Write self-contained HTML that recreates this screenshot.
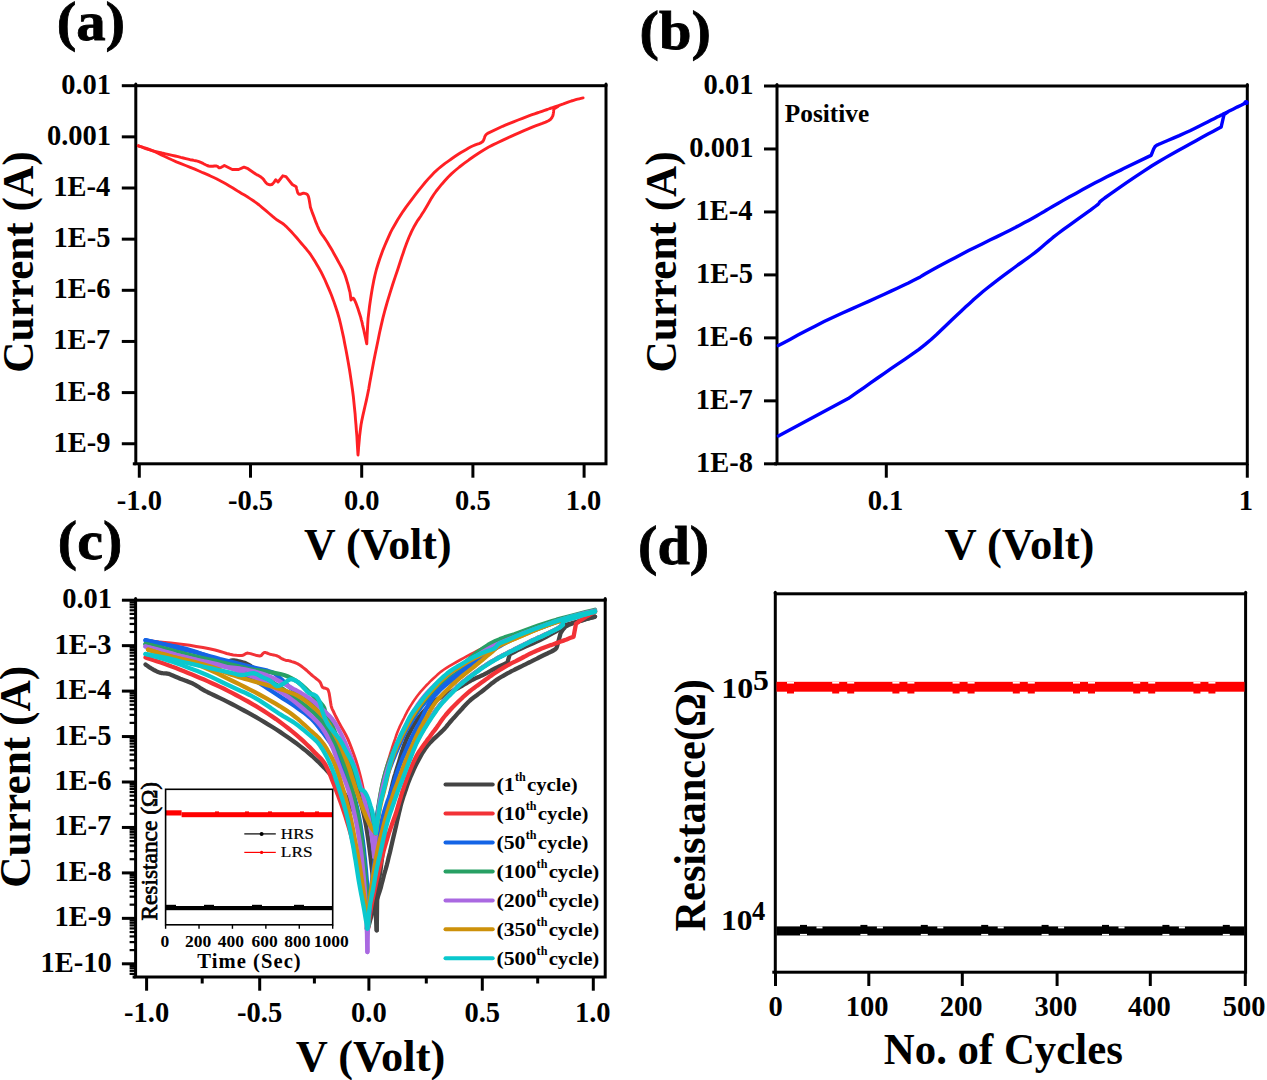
<!DOCTYPE html>
<html><head><meta charset="utf-8"><style>
html,body{margin:0;padding:0;background:#fff;}
body{width:1267px;height:1080px;overflow:hidden;}
svg{display:block;}
text{font-family:"Liberation Serif",serif;}
</style></head><body>
<svg width="1267" height="1080" viewBox="0 0 1267 1080">
<rect width="1267" height="1080" fill="#fff"/>
<text x="56.65" y="39.80" font-size="54.50" font-weight="bold" textLength="68.56" lengthAdjust="spacingAndGlyphs" fill="#000" stroke="#000" stroke-width="0.8">(a)</text>
<rect x="135.8" y="85.7" width="470.2" height="378.1" fill="none" stroke="#000" stroke-width="3"/>
<line x1="135.8" y1="85.7" x2="135.8" y2="84.10000000000001" stroke="#000" stroke-width="3" stroke-linecap="round"/>
<line x1="606" y1="85.7" x2="606" y2="84.10000000000001" stroke="#000" stroke-width="3" stroke-linecap="round"/>
<line x1="132.8" y1="463.8" x2="135.8" y2="463.8" stroke="#000" stroke-width="3"/>
<line x1="121.80" y1="85.70" x2="135.80" y2="85.70" stroke="#000" stroke-width="3" stroke-linecap="butt"/>
<text x="61.15" y="93.70" font-size="28.50" font-weight="bold" textLength="49.88" lengthAdjust="spacingAndGlyphs" fill="#000" >0.01</text>
<line x1="121.80" y1="136.85" x2="135.80" y2="136.85" stroke="#000" stroke-width="3" stroke-linecap="butt"/>
<text x="46.90" y="144.85" font-size="28.50" font-weight="bold" textLength="64.12" lengthAdjust="spacingAndGlyphs" fill="#000" >0.001</text>
<line x1="121.80" y1="188.00" x2="135.80" y2="188.00" stroke="#000" stroke-width="3" stroke-linecap="butt"/>
<text x="53.17" y="196.00" font-size="28.50" font-weight="bold" textLength="57.00" lengthAdjust="spacingAndGlyphs" fill="#000" >1E-4</text>
<line x1="121.80" y1="239.15" x2="135.80" y2="239.15" stroke="#000" stroke-width="3" stroke-linecap="butt"/>
<text x="53.60" y="247.15" font-size="28.50" font-weight="bold" textLength="57.00" lengthAdjust="spacingAndGlyphs" fill="#000" >1E-5</text>
<line x1="121.80" y1="290.30" x2="135.80" y2="290.30" stroke="#000" stroke-width="3" stroke-linecap="butt"/>
<text x="53.45" y="298.30" font-size="28.50" font-weight="bold" textLength="57.00" lengthAdjust="spacingAndGlyphs" fill="#000" >1E-6</text>
<line x1="121.80" y1="341.45" x2="135.80" y2="341.45" stroke="#000" stroke-width="3" stroke-linecap="butt"/>
<text x="53.31" y="349.45" font-size="28.50" font-weight="bold" textLength="57.00" lengthAdjust="spacingAndGlyphs" fill="#000" >1E-7</text>
<line x1="121.80" y1="392.60" x2="135.80" y2="392.60" stroke="#000" stroke-width="3" stroke-linecap="butt"/>
<text x="53.60" y="400.60" font-size="28.50" font-weight="bold" textLength="57.00" lengthAdjust="spacingAndGlyphs" fill="#000" >1E-8</text>
<line x1="121.80" y1="443.75" x2="135.80" y2="443.75" stroke="#000" stroke-width="3" stroke-linecap="butt"/>
<text x="53.60" y="451.75" font-size="28.50" font-weight="bold" textLength="57.00" lengthAdjust="spacingAndGlyphs" fill="#000" >1E-9</text>
<line x1="139.30" y1="463.80" x2="139.30" y2="477.70" stroke="#000" stroke-width="3" stroke-linecap="butt"/>
<text x="116.78" y="509.90" font-size="28.50" font-weight="bold" textLength="45.12" lengthAdjust="spacingAndGlyphs" fill="#000" >-1.0</text>
<line x1="250.50" y1="463.80" x2="250.50" y2="477.70" stroke="#000" stroke-width="3" stroke-linecap="butt"/>
<text x="227.91" y="509.90" font-size="28.50" font-weight="bold" textLength="45.12" lengthAdjust="spacingAndGlyphs" fill="#000" >-0.5</text>
<line x1="361.70" y1="463.80" x2="361.70" y2="477.70" stroke="#000" stroke-width="3" stroke-linecap="butt"/>
<text x="343.89" y="509.90" font-size="28.50" font-weight="bold" textLength="35.63" lengthAdjust="spacingAndGlyphs" fill="#000" >0.0</text>
<line x1="472.90" y1="463.80" x2="472.90" y2="477.70" stroke="#000" stroke-width="3" stroke-linecap="butt"/>
<text x="455.02" y="509.90" font-size="28.50" font-weight="bold" textLength="35.62" lengthAdjust="spacingAndGlyphs" fill="#000" >0.5</text>
<line x1="584.10" y1="463.80" x2="584.10" y2="477.70" stroke="#000" stroke-width="3" stroke-linecap="butt"/>
<text x="565.72" y="509.90" font-size="28.50" font-weight="bold" textLength="35.62" lengthAdjust="spacingAndGlyphs" fill="#000" >1.0</text>
<text x="304.06" y="559.20" font-size="44.60" font-weight="bold" textLength="147.46" lengthAdjust="spacingAndGlyphs" fill="#000" >V (Volt)</text>
<text transform="translate(33.00,370.60) rotate(-90)" x="-2.16" y="0" font-size="44.00" font-weight="bold" textLength="221.38" lengthAdjust="spacingAndGlyphs" >Current (A)</text>
<polyline points="138.4,145.8 139.8,146.3 141.7,146.8 143.9,147.6 146.5,148.4 149.2,149.4 152.0,150.5 154.9,151.8 158.0,153.3 161.3,154.9 164.8,156.5 168.5,158.3 172.3,160.0 176.4,161.8 180.9,163.6 185.6,165.5 190.3,167.4 194.8,169.2 199.0,171.0 202.8,172.7 206.4,174.2 209.8,175.7 213.2,177.3 216.4,178.8 219.7,180.5 223.0,182.3 226.2,184.1 229.4,186.0 232.5,187.8 235.6,189.7 238.6,191.6 241.6,193.4 244.5,195.1 247.3,196.8 250.1,198.6 253.0,200.5 256.0,202.6 259.2,205.0 262.5,207.8 265.9,210.7 269.2,213.5 272.3,216.2 275.0,218.4 277.2,220.1 279.1,221.3 280.7,222.3 282.3,223.3 284.0,224.5 286.0,226.3 288.4,228.7 291.1,231.5 293.9,234.6 296.7,237.8 299.3,240.9 301.7,243.7 303.8,246.1 305.6,248.2 307.3,250.3 309.0,252.4 310.7,254.7 312.5,257.5 314.5,260.6 316.5,264.0 318.6,267.6 320.8,271.4 322.9,275.6 325.0,280.0 327.1,284.8 329.3,289.9 331.5,295.3 333.6,300.9 335.6,306.7 337.5,312.5 339.2,318.4 340.7,324.5 342.1,330.8 343.5,337.1 344.7,343.5 346.0,350.0 347.2,356.6 348.4,363.3 349.6,370.2 350.6,376.9 351.6,383.6 352.5,390.0 353.3,396.2 353.9,402.2 354.5,408.1 355.1,413.9 355.5,419.5 356.0,425.0 356.4,430.6 356.9,436.5 357.2,442.2 357.5,447.4 357.8,451.8 358.0,455.0 358.3,451.7 358.6,447.2 359.1,441.9 359.6,436.1 360.3,430.3 361.0,425.0 361.9,420.1 362.9,415.4 364.0,410.6 365.1,405.7 366.3,400.6 367.5,395.0 368.7,389.0 369.8,382.6 371.0,375.9 372.3,369.1 373.6,362.1 375.0,355.0 376.5,347.8 378.0,340.5 379.5,333.0 381.2,325.4 383.0,317.7 385.0,310.0 387.3,301.9 389.9,293.4 392.6,284.8 395.3,276.6 397.9,269.0 400.0,262.5 401.7,257.2 403.2,252.9 404.4,249.2 405.6,246.0 406.7,243.0 407.9,240.0 409.1,237.0 410.3,234.4 411.4,231.9 412.5,229.6 413.7,227.3 415.0,225.0 416.3,222.7 417.6,220.6 419.0,218.6 420.5,216.5 422.0,214.1 423.7,211.5 425.5,208.5 427.4,205.2 429.4,201.7 431.5,198.1 433.8,194.5 436.3,191.0 439.0,187.6 441.8,184.2 444.8,180.8 448.0,177.3 451.4,173.9 455.2,170.5 459.4,167.0 464.1,163.4 469.0,159.8 474.0,156.3 478.9,153.0 483.7,150.0 488.3,147.3 492.9,144.9 497.4,142.7 501.9,140.6 506.2,138.6 510.5,136.6 514.9,134.6 519.5,132.6 524.0,130.6 528.2,128.9 531.7,127.4 534.2,126.3 536.1,125.6 539.0,124.6 542.3,123.4 545.6,122.1 548.5,120.7 550.7,119.2 552.0,117.5 552.9,115.6 553.3,113.6 553.6,111.7 553.7,110.1 553.9,108.9 557.9,106.6" fill="none" stroke="#ff2024" stroke-width="2.9" stroke-linejoin="round" stroke-linecap="round"/>
<polyline points="138.4,145.8 139.8,146.3 141.6,147.0 143.8,147.9 146.3,148.8 149.0,149.7 151.8,150.5 154.9,151.3 158.3,152.1 161.9,153.0 165.6,153.8 169.1,154.6 172.3,155.3 175.2,156.0 178.1,156.7 180.7,157.4 183.3,158.0 185.7,158.6 188.0,159.2 190.1,159.7 192.1,160.0 193.9,160.4 195.6,160.7 197.3,161.1 199.0,161.6 200.7,162.3 202.4,163.1 204.0,164.0 205.6,164.8 207.1,165.5 208.6,166.0 210.1,166.2 211.5,166.3 212.9,166.2 214.3,166.0 215.5,165.9 216.5,166.0 217.3,166.3 217.9,166.7 218.3,167.1 218.7,167.5 219.1,167.8 219.7,167.9 220.5,167.7 221.3,167.3 222.2,166.8 223.1,166.3 223.9,165.8 224.4,165.5 232.3,169.5 238.6,169.5 244.0,167.1 248.0,168.7 256.0,174.2 256.7,174.6 257.7,175.1 258.9,175.8 260.1,176.5 261.3,177.3 262.3,178.1 263.2,179.0 264.0,180.0 264.7,181.1 265.5,182.1 266.2,183.0 267.0,183.7 267.8,184.2 268.6,184.5 269.4,184.7 270.3,184.8 271.1,184.7 271.8,184.5 272.5,184.0 273.3,183.1 274.1,182.2 274.7,181.2 275.3,180.3 275.7,179.7 278.0,182.0 282.8,175.8 286.0,176.6 292.3,184.5 296.2,186.8 296.4,187.7 296.7,189.0 297.1,190.5 297.5,191.9 298.0,193.2 298.6,194.0 299.3,194.3 300.2,194.3 301.1,194.0 302.0,193.6 302.8,193.3 303.3,193.1 303.8,193.3 304.6,193.4 305.5,193.6 306.4,193.9 307.3,194.5 308.0,195.5 308.6,197.1 309.1,199.2 309.5,201.6 309.9,203.9 310.2,205.9 310.4,207.3 311.3,209.8 312.6,213.4 314.2,217.5 315.8,221.9 317.5,226.0 319.0,229.4 320.4,232.1 321.8,234.3 323.2,236.2 324.6,238.1 326.0,240.2 327.5,242.5 329.1,245.2 330.8,248.1 332.6,251.1 334.3,254.2 336.0,257.2 337.5,260.0 338.9,262.6 340.3,265.1 341.6,267.5 342.8,269.9 343.9,272.4 345.0,275.0 346.0,278.0 347.0,281.3 348.0,284.7 348.8,287.9 349.5,290.6 350.0,292.5 351.0,300.0 351.3,299.7 351.7,299.1 352.1,298.5 352.7,298.1 353.3,298.2 354.0,299.0 354.9,300.7 355.9,303.1 357.0,306.0 358.1,309.1 359.1,312.2 360.0,315.0 360.8,317.6 361.4,320.1 362.1,322.6 362.6,325.1 363.2,327.6 363.8,330.0 364.3,332.5 364.9,335.2 365.5,337.8 366.0,340.2 366.4,342.3 366.8,343.8 366.9,340.4 367.1,335.9 367.4,330.5 367.7,324.5 368.1,318.4 368.8,312.5 369.5,306.5 370.4,300.2 371.4,293.7 372.5,287.2 373.7,280.9 375.0,275.0 376.4,269.5 378.0,264.3 379.6,259.2 381.3,254.4 383.1,249.6 385.0,245.0 386.9,240.6 388.8,236.3 390.7,232.2 392.8,228.2 395.1,224.2 397.5,220.0 400.2,215.7 403.1,211.3 406.2,206.9 409.4,202.6 412.6,198.3 415.8,194.2 418.9,190.2 422.0,186.3 425.1,182.5 428.3,178.9 431.5,175.4 434.7,172.1 438.1,169.0 441.6,166.1 445.1,163.4 448.7,160.9 452.0,158.5 455.2,156.3 458.2,154.3 461.0,152.5 463.7,150.9 466.3,149.4 468.7,148.0 471.0,146.8 473.2,145.8 475.3,144.9 477.3,144.2 479.1,143.6 480.7,142.9 482.0,142.1 483.0,141.1 483.7,140.0 484.1,138.8 484.5,137.7 484.8,136.6 485.2,135.8 485.7,135.1 486.1,134.6 486.6,134.2 487.0,133.9 487.3,133.6 487.6,133.4 502.6,126.3 505.3,125.2 509.0,123.7 513.5,121.9 518.1,120.0 522.5,118.3 526.3,116.8 529.4,115.7 532.1,114.7 534.6,113.8 537.0,113.0 539.5,112.2 542.0,111.3 544.6,110.4 547.3,109.5 549.9,108.5 552.6,107.6 555.3,106.7 557.9,105.8 560.6,104.8 563.4,103.9 566.1,102.9 568.8,101.9 571.3,101.0 573.6,100.3 575.7,99.7 577.6,99.2 579.3,98.8 580.9,98.4 582.1,98.1 583.1,97.9" fill="none" stroke="#ff2024" stroke-width="2.9" stroke-linejoin="round" stroke-linecap="round"/>
<text x="639.57" y="49.30" font-size="54.50" font-weight="bold" textLength="71.40" lengthAdjust="spacingAndGlyphs" fill="#000" stroke="#000" stroke-width="0.8">(b)</text>
<rect x="777" y="86" width="470.29999999999995" height="377.8" fill="none" stroke="#000" stroke-width="3"/>
<line x1="777" y1="86" x2="777" y2="84.4" stroke="#000" stroke-width="3" stroke-linecap="round"/>
<line x1="1247.3" y1="86" x2="1247.3" y2="84.4" stroke="#000" stroke-width="3" stroke-linecap="round"/>
<line x1="774" y1="463.8" x2="777" y2="463.8" stroke="#000" stroke-width="3"/>
<line x1="764.00" y1="86.00" x2="777.00" y2="86.00" stroke="#000" stroke-width="3" stroke-linecap="butt"/>
<text x="703.55" y="94.00" font-size="28.50" font-weight="bold" textLength="49.87" lengthAdjust="spacingAndGlyphs" fill="#000" >0.01</text>
<line x1="764.00" y1="148.97" x2="777.00" y2="148.97" stroke="#000" stroke-width="3" stroke-linecap="butt"/>
<text x="689.30" y="156.97" font-size="28.50" font-weight="bold" textLength="64.12" lengthAdjust="spacingAndGlyphs" fill="#000" >0.001</text>
<line x1="764.00" y1="211.94" x2="777.00" y2="211.94" stroke="#000" stroke-width="3" stroke-linecap="butt"/>
<text x="695.57" y="219.94" font-size="28.50" font-weight="bold" textLength="57.00" lengthAdjust="spacingAndGlyphs" fill="#000" >1E-4</text>
<line x1="764.00" y1="274.91" x2="777.00" y2="274.91" stroke="#000" stroke-width="3" stroke-linecap="butt"/>
<text x="696.00" y="282.91" font-size="28.50" font-weight="bold" textLength="57.00" lengthAdjust="spacingAndGlyphs" fill="#000" >1E-5</text>
<line x1="764.00" y1="337.88" x2="777.00" y2="337.88" stroke="#000" stroke-width="3" stroke-linecap="butt"/>
<text x="695.86" y="345.88" font-size="28.50" font-weight="bold" textLength="57.00" lengthAdjust="spacingAndGlyphs" fill="#000" >1E-6</text>
<line x1="764.00" y1="400.85" x2="777.00" y2="400.85" stroke="#000" stroke-width="3" stroke-linecap="butt"/>
<text x="695.71" y="408.85" font-size="28.50" font-weight="bold" textLength="57.00" lengthAdjust="spacingAndGlyphs" fill="#000" >1E-7</text>
<line x1="764.00" y1="463.82" x2="777.00" y2="463.82" stroke="#000" stroke-width="3" stroke-linecap="butt"/>
<text x="696.00" y="471.82" font-size="28.50" font-weight="bold" textLength="57.00" lengthAdjust="spacingAndGlyphs" fill="#000" >1E-8</text>
<line x1="886.30" y1="463.80" x2="886.30" y2="477.70" stroke="#000" stroke-width="3" stroke-linecap="butt"/>
<text x="867.63" y="509.80" font-size="28.50" font-weight="bold" textLength="35.62" lengthAdjust="spacingAndGlyphs" fill="#000" >0.1</text>
<line x1="1247.30" y1="463.80" x2="1247.30" y2="477.70" stroke="#000" stroke-width="3" stroke-linecap="butt"/>
<text x="1238.75" y="509.80" font-size="28.50" font-weight="bold" textLength="14.25" lengthAdjust="spacingAndGlyphs" fill="#000" >1</text>
<text x="944.45" y="559.00" font-size="44.60" font-weight="bold" textLength="150.00" lengthAdjust="spacingAndGlyphs" fill="#000" >V (Volt)</text>
<text transform="translate(676.10,370.30) rotate(-90)" x="-2.16" y="0" font-size="44.00" font-weight="bold" textLength="221.07" lengthAdjust="spacingAndGlyphs" >Current (A)</text>
<text x="784.82" y="122.10" font-size="25.30" font-weight="bold" textLength="84.31" lengthAdjust="spacingAndGlyphs" fill="#000" >Positive</text>
<polyline points="778.4,345.6 783.3,343.0 790.0,339.4 797.9,335.1 806.6,330.5 815.5,325.9 824.1,321.6 832.7,317.5 841.9,313.3 851.2,309.1 860.4,305.0 869.2,301.1 877.1,297.5 884.3,294.2 891.0,291.1 897.3,288.2 903.0,285.5 908.4,283.0 913.2,280.6 917.2,278.5 920.3,276.9 922.9,275.3 925.4,273.8 928.5,272.0 932.5,269.8 937.5,267.1 943.1,264.1 949.2,260.8 955.6,257.4 962.1,254.0 968.6,250.6 975.4,247.2 982.6,243.7 989.9,240.1 997.1,236.6 1003.9,233.3 1010.0,230.2 1015.3,227.5 1020.1,224.9 1024.5,222.6 1028.6,220.4 1032.6,218.2 1036.5,216.0 1040.1,213.9 1043.3,212.1 1046.2,210.3 1049.4,208.4 1053.0,206.2 1057.4,203.7 1062.8,200.6 1069.1,197.1 1075.8,193.4 1082.7,189.6 1089.2,186.0 1095.2,182.8 1100.8,179.9 1106.4,177.0 1111.8,174.4 1116.7,172.0 1120.7,170.1 1123.7,168.6 1151.1,155.4 1151.5,154.4 1152.1,153.0 1152.7,151.3 1153.4,149.6 1154.2,148.0 1154.9,146.8 1155.7,146.0 1156.6,145.3 1157.5,144.9 1158.3,144.5 1159.1,144.2 1159.6,144.0 1163.0,142.5 1167.7,140.5 1173.3,138.1 1179.2,135.6 1184.9,133.0 1190.0,130.7 1194.6,128.5 1199.1,126.3 1203.5,124.1 1207.6,122.0 1211.3,120.1 1214.6,118.4 1217.2,117.1 1219.0,116.2 1220.5,115.4 1222.0,114.7 1223.7,113.8 1226.0,112.7 1229.2,111.1 1233.0,109.2 1237.1,107.1 1241.1,105.2 1244.4,103.5 1246.8,102.3" fill="none" stroke="#0000ff" stroke-width="3.4" stroke-linejoin="round" stroke-linecap="round"/>
<polyline points="778.4,435.9 848.2,398.6 852.1,395.9 857.4,392.2 863.7,387.8 870.6,382.9 877.6,378.0 884.3,373.3 891.0,368.7 898.0,363.9 905.1,359.1 912.2,354.2 919.0,349.3 925.3,344.4 931.1,339.5 936.6,334.6 941.8,329.6 946.8,324.8 951.7,320.0 956.5,315.5 961.1,311.2 965.5,307.1 969.8,303.2 974.0,299.3 978.4,295.4 983.0,291.5 988.0,287.5 993.3,283.3 998.8,279.2 1004.1,275.2 1009.2,271.4 1013.8,268.0 1017.8,265.0 1021.4,262.5 1024.7,260.2 1027.9,257.9 1031.1,255.5 1034.6,252.9 1038.1,250.1 1041.5,247.2 1044.9,244.2 1048.6,241.1 1052.7,237.7 1057.4,234.0 1063.2,229.7 1069.9,224.8 1077.1,219.6 1084.1,214.6 1090.4,210.1 1095.2,206.5 1098.0,204.3 1099.1,203.1 1099.4,202.5 1099.8,201.9 1101.3,200.6 1104.7,198.0 1110.5,193.9 1118.0,188.6 1126.6,182.7 1135.5,176.6 1144.2,170.8 1152.0,165.8 1159.0,161.5 1165.6,157.6 1172.0,154.0 1178.2,150.5 1184.2,147.2 1190.0,144.0 1196.0,140.7 1202.1,137.3 1208.0,134.1 1213.4,131.2 1217.9,128.7 1221.2,126.9 1224.0,114.6 1226.9,112.7" fill="none" stroke="#0000ff" stroke-width="3.4" stroke-linejoin="round" stroke-linecap="round"/>
<circle cx="1246" cy="102.5" r="2.6" fill="#0000ff"/>
<text x="638.08" y="563.60" font-size="54.50" font-weight="bold" textLength="71.07" lengthAdjust="spacingAndGlyphs" fill="#000" stroke="#000" stroke-width="0.8">(d)</text>
<rect x="775.3" y="593.8" width="470.29999999999995" height="378.4000000000001" fill="none" stroke="#000" stroke-width="3"/>
<line x1="775.3" y1="593.8" x2="775.3" y2="592.1999999999999" stroke="#000" stroke-width="3" stroke-linecap="round"/>
<line x1="1245.6" y1="593.8" x2="1245.6" y2="592.1999999999999" stroke="#000" stroke-width="3" stroke-linecap="round"/>
<line x1="772.3" y1="972.2" x2="775.3" y2="972.2" stroke="#000" stroke-width="3"/>
<line x1="775.50" y1="972.20" x2="775.50" y2="986.00" stroke="#000" stroke-width="3" stroke-linecap="butt"/>
<text x="768.38" y="1016.40" font-size="28.50" font-weight="bold" textLength="14.25" lengthAdjust="spacingAndGlyphs" fill="#000" >0</text>
<line x1="868.80" y1="972.20" x2="868.80" y2="986.00" stroke="#000" stroke-width="3" stroke-linecap="butt"/>
<text x="845.65" y="1016.40" font-size="28.50" font-weight="bold" textLength="42.75" lengthAdjust="spacingAndGlyphs" fill="#000" >100</text>
<line x1="962.30" y1="972.20" x2="962.30" y2="986.00" stroke="#000" stroke-width="3" stroke-linecap="butt"/>
<text x="939.72" y="1016.40" font-size="28.50" font-weight="bold" textLength="42.75" lengthAdjust="spacingAndGlyphs" fill="#000" >200</text>
<line x1="1057.10" y1="972.20" x2="1057.10" y2="986.00" stroke="#000" stroke-width="3" stroke-linecap="butt"/>
<text x="1034.60" y="1016.40" font-size="28.50" font-weight="bold" textLength="42.75" lengthAdjust="spacingAndGlyphs" fill="#000" >300</text>
<line x1="1150.30" y1="972.20" x2="1150.30" y2="986.00" stroke="#000" stroke-width="3" stroke-linecap="butt"/>
<text x="1128.08" y="1016.40" font-size="28.50" font-weight="bold" textLength="42.75" lengthAdjust="spacingAndGlyphs" fill="#000" >400</text>
<line x1="1245.30" y1="972.20" x2="1245.30" y2="986.00" stroke="#000" stroke-width="3" stroke-linecap="butt"/>
<text x="1222.72" y="1016.40" font-size="28.50" font-weight="bold" textLength="42.75" lengthAdjust="spacingAndGlyphs" fill="#000" >500</text>
<text x="883.84" y="1064.30" font-size="44.40" font-weight="bold" textLength="239.00" lengthAdjust="spacingAndGlyphs" fill="#000" >No. of Cycles</text>
<text transform="translate(704.70,930.80) rotate(-90)" x="-0.63" y="0" font-size="44.00" font-weight="bold" textLength="252.36" lengthAdjust="spacingAndGlyphs" >Resistance(Ω)</text>
<text x="721.25" y="697.90" font-size="29.50" font-weight="bold" textLength="31.93" lengthAdjust="spacingAndGlyphs" fill="#000" >10</text>
<text x="753.03" y="690.10" font-size="29.50" font-weight="bold" textLength="15.88" lengthAdjust="spacingAndGlyphs" fill="#000" >5</text>
<text x="720.98" y="929.80" font-size="29.00" font-weight="bold" textLength="31.48" lengthAdjust="spacingAndGlyphs" fill="#000" >10</text>
<text x="752.00" y="919.60" font-size="28.00" font-weight="bold" textLength="13.23" lengthAdjust="spacingAndGlyphs" fill="#000" >4</text>
<rect x="776.5" y="681.8" width="468" height="9.9" fill="#ff0000"/>
<rect x="787.0" y="683.6" width="7" height="9.9" fill="#ff0000"/>
<rect x="787.0" y="681.8" width="7" height="1.8" fill="#fff"/>
<rect x="832.2" y="683.6" width="7" height="9.9" fill="#ff0000"/>
<rect x="832.2" y="681.8" width="7" height="1.8" fill="#fff"/>
<rect x="847.2" y="683.6" width="7" height="9.9" fill="#ff0000"/>
<rect x="847.2" y="681.8" width="7" height="1.8" fill="#fff"/>
<rect x="892.4" y="683.6" width="7" height="9.9" fill="#ff0000"/>
<rect x="892.4" y="681.8" width="7" height="1.8" fill="#fff"/>
<rect x="907.4" y="683.6" width="7" height="9.9" fill="#ff0000"/>
<rect x="907.4" y="681.8" width="7" height="1.8" fill="#fff"/>
<rect x="952.6" y="683.6" width="7" height="9.9" fill="#ff0000"/>
<rect x="952.6" y="681.8" width="7" height="1.8" fill="#fff"/>
<rect x="967.6" y="683.6" width="7" height="9.9" fill="#ff0000"/>
<rect x="967.6" y="681.8" width="7" height="1.8" fill="#fff"/>
<rect x="1012.8" y="683.6" width="7" height="9.9" fill="#ff0000"/>
<rect x="1012.8" y="681.8" width="7" height="1.8" fill="#fff"/>
<rect x="1027.8" y="683.6" width="7" height="9.9" fill="#ff0000"/>
<rect x="1027.8" y="681.8" width="7" height="1.8" fill="#fff"/>
<rect x="1073.0" y="683.6" width="7" height="9.9" fill="#ff0000"/>
<rect x="1073.0" y="681.8" width="7" height="1.8" fill="#fff"/>
<rect x="1088.0" y="683.6" width="7" height="9.9" fill="#ff0000"/>
<rect x="1088.0" y="681.8" width="7" height="1.8" fill="#fff"/>
<rect x="1133.2" y="683.6" width="7" height="9.9" fill="#ff0000"/>
<rect x="1133.2" y="681.8" width="7" height="1.8" fill="#fff"/>
<rect x="1148.2" y="683.6" width="7" height="9.9" fill="#ff0000"/>
<rect x="1148.2" y="681.8" width="7" height="1.8" fill="#fff"/>
<rect x="1193.4" y="683.6" width="7" height="9.9" fill="#ff0000"/>
<rect x="1193.4" y="681.8" width="7" height="1.8" fill="#fff"/>
<rect x="1208.4" y="683.6" width="7" height="9.9" fill="#ff0000"/>
<rect x="1208.4" y="681.8" width="7" height="1.8" fill="#fff"/>
<rect x="776.5" y="926.4" width="468" height="9.1" fill="#000"/>
<rect x="800.0" y="924.9" width="7" height="9" fill="#000"/>
<rect x="800.0" y="933.9" width="7" height="1.6" fill="#fff"/>
<rect x="816.5" y="926.4" width="6" height="2" fill="#fff"/>
<rect x="860.4" y="924.9" width="7" height="9" fill="#000"/>
<rect x="860.4" y="933.9" width="7" height="1.6" fill="#fff"/>
<rect x="876.9" y="926.4" width="6" height="2" fill="#fff"/>
<rect x="920.8" y="924.9" width="7" height="9" fill="#000"/>
<rect x="920.8" y="933.9" width="7" height="1.6" fill="#fff"/>
<rect x="937.3" y="926.4" width="6" height="2" fill="#fff"/>
<rect x="981.2" y="924.9" width="7" height="9" fill="#000"/>
<rect x="981.2" y="933.9" width="7" height="1.6" fill="#fff"/>
<rect x="997.7" y="926.4" width="6" height="2" fill="#fff"/>
<rect x="1041.6" y="924.9" width="7" height="9" fill="#000"/>
<rect x="1041.6" y="933.9" width="7" height="1.6" fill="#fff"/>
<rect x="1058.1" y="926.4" width="6" height="2" fill="#fff"/>
<rect x="1102.0" y="924.9" width="7" height="9" fill="#000"/>
<rect x="1102.0" y="933.9" width="7" height="1.6" fill="#fff"/>
<rect x="1118.5" y="926.4" width="6" height="2" fill="#fff"/>
<rect x="1162.4" y="924.9" width="7" height="9" fill="#000"/>
<rect x="1162.4" y="933.9" width="7" height="1.6" fill="#fff"/>
<rect x="1178.9" y="926.4" width="6" height="2" fill="#fff"/>
<rect x="1222.8" y="924.9" width="7" height="9" fill="#000"/>
<rect x="1222.8" y="933.9" width="7" height="1.6" fill="#fff"/>
<text x="57.89" y="559.20" font-size="54.50" font-weight="bold" textLength="64.42" lengthAdjust="spacingAndGlyphs" fill="#000" stroke="#000" stroke-width="0.8">(c)</text>
<rect x="135.6" y="600.2" width="469.6" height="376.79999999999995" fill="none" stroke="#000" stroke-width="3"/>
<line x1="135.6" y1="600.2" x2="135.6" y2="598.6" stroke="#000" stroke-width="3" stroke-linecap="round"/>
<line x1="605.2" y1="600.2" x2="605.2" y2="598.6" stroke="#000" stroke-width="3" stroke-linecap="round"/>
<line x1="132.6" y1="977" x2="135.6" y2="977" stroke="#000" stroke-width="3"/>
<line x1="121.90" y1="600.20" x2="135.60" y2="600.20" stroke="#000" stroke-width="3" stroke-linecap="butt"/>
<text x="62.15" y="608.20" font-size="28.50" font-weight="bold" textLength="49.88" lengthAdjust="spacingAndGlyphs" fill="#000" >0.01</text>
<line x1="121.90" y1="645.65" x2="135.60" y2="645.65" stroke="#000" stroke-width="3" stroke-linecap="butt"/>
<text x="54.60" y="653.65" font-size="28.50" font-weight="bold" textLength="57.00" lengthAdjust="spacingAndGlyphs" fill="#000" >1E-3</text>
<line x1="121.90" y1="691.10" x2="135.60" y2="691.10" stroke="#000" stroke-width="3" stroke-linecap="butt"/>
<text x="54.17" y="699.10" font-size="28.50" font-weight="bold" textLength="57.00" lengthAdjust="spacingAndGlyphs" fill="#000" >1E-4</text>
<line x1="121.90" y1="736.55" x2="135.60" y2="736.55" stroke="#000" stroke-width="3" stroke-linecap="butt"/>
<text x="54.60" y="744.55" font-size="28.50" font-weight="bold" textLength="57.00" lengthAdjust="spacingAndGlyphs" fill="#000" >1E-5</text>
<line x1="121.90" y1="782.00" x2="135.60" y2="782.00" stroke="#000" stroke-width="3" stroke-linecap="butt"/>
<text x="54.45" y="790.00" font-size="28.50" font-weight="bold" textLength="57.00" lengthAdjust="spacingAndGlyphs" fill="#000" >1E-6</text>
<line x1="121.90" y1="827.45" x2="135.60" y2="827.45" stroke="#000" stroke-width="3" stroke-linecap="butt"/>
<text x="54.31" y="835.45" font-size="28.50" font-weight="bold" textLength="57.00" lengthAdjust="spacingAndGlyphs" fill="#000" >1E-7</text>
<line x1="121.90" y1="872.90" x2="135.60" y2="872.90" stroke="#000" stroke-width="3" stroke-linecap="butt"/>
<text x="54.60" y="880.90" font-size="28.50" font-weight="bold" textLength="57.00" lengthAdjust="spacingAndGlyphs" fill="#000" >1E-8</text>
<line x1="121.90" y1="918.35" x2="135.60" y2="918.35" stroke="#000" stroke-width="3" stroke-linecap="butt"/>
<text x="54.60" y="926.35" font-size="28.50" font-weight="bold" textLength="57.00" lengthAdjust="spacingAndGlyphs" fill="#000" >1E-9</text>
<line x1="121.90" y1="963.80" x2="135.60" y2="963.80" stroke="#000" stroke-width="3" stroke-linecap="butt"/>
<text x="40.49" y="971.80" font-size="28.50" font-weight="bold" textLength="71.25" lengthAdjust="spacingAndGlyphs" fill="#000" >1E-10</text>
<line x1="129.60" y1="973.88" x2="135.60" y2="973.88" stroke="#000" stroke-width="2.2" stroke-linecap="butt"/>
<line x1="129.60" y1="970.84" x2="135.60" y2="970.84" stroke="#000" stroke-width="2.2" stroke-linecap="butt"/>
<line x1="129.60" y1="968.20" x2="135.60" y2="968.20" stroke="#000" stroke-width="2.2" stroke-linecap="butt"/>
<line x1="129.60" y1="965.88" x2="135.60" y2="965.88" stroke="#000" stroke-width="2.2" stroke-linecap="butt"/>
<line x1="129.60" y1="950.12" x2="135.60" y2="950.12" stroke="#000" stroke-width="2.2" stroke-linecap="butt"/>
<line x1="129.60" y1="942.11" x2="135.60" y2="942.11" stroke="#000" stroke-width="2.2" stroke-linecap="butt"/>
<line x1="129.60" y1="936.44" x2="135.60" y2="936.44" stroke="#000" stroke-width="2.2" stroke-linecap="butt"/>
<line x1="129.60" y1="932.03" x2="135.60" y2="932.03" stroke="#000" stroke-width="2.2" stroke-linecap="butt"/>
<line x1="129.60" y1="928.43" x2="135.60" y2="928.43" stroke="#000" stroke-width="2.2" stroke-linecap="butt"/>
<line x1="129.60" y1="925.39" x2="135.60" y2="925.39" stroke="#000" stroke-width="2.2" stroke-linecap="butt"/>
<line x1="129.60" y1="922.75" x2="135.60" y2="922.75" stroke="#000" stroke-width="2.2" stroke-linecap="butt"/>
<line x1="129.60" y1="920.43" x2="135.60" y2="920.43" stroke="#000" stroke-width="2.2" stroke-linecap="butt"/>
<line x1="129.60" y1="904.67" x2="135.60" y2="904.67" stroke="#000" stroke-width="2.2" stroke-linecap="butt"/>
<line x1="129.60" y1="896.66" x2="135.60" y2="896.66" stroke="#000" stroke-width="2.2" stroke-linecap="butt"/>
<line x1="129.60" y1="890.99" x2="135.60" y2="890.99" stroke="#000" stroke-width="2.2" stroke-linecap="butt"/>
<line x1="129.60" y1="886.58" x2="135.60" y2="886.58" stroke="#000" stroke-width="2.2" stroke-linecap="butt"/>
<line x1="129.60" y1="882.98" x2="135.60" y2="882.98" stroke="#000" stroke-width="2.2" stroke-linecap="butt"/>
<line x1="129.60" y1="879.94" x2="135.60" y2="879.94" stroke="#000" stroke-width="2.2" stroke-linecap="butt"/>
<line x1="129.60" y1="877.30" x2="135.60" y2="877.30" stroke="#000" stroke-width="2.2" stroke-linecap="butt"/>
<line x1="129.60" y1="874.98" x2="135.60" y2="874.98" stroke="#000" stroke-width="2.2" stroke-linecap="butt"/>
<line x1="129.60" y1="859.22" x2="135.60" y2="859.22" stroke="#000" stroke-width="2.2" stroke-linecap="butt"/>
<line x1="129.60" y1="851.21" x2="135.60" y2="851.21" stroke="#000" stroke-width="2.2" stroke-linecap="butt"/>
<line x1="129.60" y1="845.54" x2="135.60" y2="845.54" stroke="#000" stroke-width="2.2" stroke-linecap="butt"/>
<line x1="129.60" y1="841.13" x2="135.60" y2="841.13" stroke="#000" stroke-width="2.2" stroke-linecap="butt"/>
<line x1="129.60" y1="837.53" x2="135.60" y2="837.53" stroke="#000" stroke-width="2.2" stroke-linecap="butt"/>
<line x1="129.60" y1="834.49" x2="135.60" y2="834.49" stroke="#000" stroke-width="2.2" stroke-linecap="butt"/>
<line x1="129.60" y1="831.85" x2="135.60" y2="831.85" stroke="#000" stroke-width="2.2" stroke-linecap="butt"/>
<line x1="129.60" y1="829.53" x2="135.60" y2="829.53" stroke="#000" stroke-width="2.2" stroke-linecap="butt"/>
<line x1="129.60" y1="813.77" x2="135.60" y2="813.77" stroke="#000" stroke-width="2.2" stroke-linecap="butt"/>
<line x1="129.60" y1="805.76" x2="135.60" y2="805.76" stroke="#000" stroke-width="2.2" stroke-linecap="butt"/>
<line x1="129.60" y1="800.09" x2="135.60" y2="800.09" stroke="#000" stroke-width="2.2" stroke-linecap="butt"/>
<line x1="129.60" y1="795.68" x2="135.60" y2="795.68" stroke="#000" stroke-width="2.2" stroke-linecap="butt"/>
<line x1="129.60" y1="792.08" x2="135.60" y2="792.08" stroke="#000" stroke-width="2.2" stroke-linecap="butt"/>
<line x1="129.60" y1="789.04" x2="135.60" y2="789.04" stroke="#000" stroke-width="2.2" stroke-linecap="butt"/>
<line x1="129.60" y1="786.40" x2="135.60" y2="786.40" stroke="#000" stroke-width="2.2" stroke-linecap="butt"/>
<line x1="129.60" y1="784.08" x2="135.60" y2="784.08" stroke="#000" stroke-width="2.2" stroke-linecap="butt"/>
<line x1="129.60" y1="768.32" x2="135.60" y2="768.32" stroke="#000" stroke-width="2.2" stroke-linecap="butt"/>
<line x1="129.60" y1="760.31" x2="135.60" y2="760.31" stroke="#000" stroke-width="2.2" stroke-linecap="butt"/>
<line x1="129.60" y1="754.64" x2="135.60" y2="754.64" stroke="#000" stroke-width="2.2" stroke-linecap="butt"/>
<line x1="129.60" y1="750.23" x2="135.60" y2="750.23" stroke="#000" stroke-width="2.2" stroke-linecap="butt"/>
<line x1="129.60" y1="746.63" x2="135.60" y2="746.63" stroke="#000" stroke-width="2.2" stroke-linecap="butt"/>
<line x1="129.60" y1="743.59" x2="135.60" y2="743.59" stroke="#000" stroke-width="2.2" stroke-linecap="butt"/>
<line x1="129.60" y1="740.95" x2="135.60" y2="740.95" stroke="#000" stroke-width="2.2" stroke-linecap="butt"/>
<line x1="129.60" y1="738.63" x2="135.60" y2="738.63" stroke="#000" stroke-width="2.2" stroke-linecap="butt"/>
<line x1="129.60" y1="722.87" x2="135.60" y2="722.87" stroke="#000" stroke-width="2.2" stroke-linecap="butt"/>
<line x1="129.60" y1="714.86" x2="135.60" y2="714.86" stroke="#000" stroke-width="2.2" stroke-linecap="butt"/>
<line x1="129.60" y1="709.19" x2="135.60" y2="709.19" stroke="#000" stroke-width="2.2" stroke-linecap="butt"/>
<line x1="129.60" y1="704.78" x2="135.60" y2="704.78" stroke="#000" stroke-width="2.2" stroke-linecap="butt"/>
<line x1="129.60" y1="701.18" x2="135.60" y2="701.18" stroke="#000" stroke-width="2.2" stroke-linecap="butt"/>
<line x1="129.60" y1="698.14" x2="135.60" y2="698.14" stroke="#000" stroke-width="2.2" stroke-linecap="butt"/>
<line x1="129.60" y1="695.50" x2="135.60" y2="695.50" stroke="#000" stroke-width="2.2" stroke-linecap="butt"/>
<line x1="129.60" y1="693.18" x2="135.60" y2="693.18" stroke="#000" stroke-width="2.2" stroke-linecap="butt"/>
<line x1="129.60" y1="677.42" x2="135.60" y2="677.42" stroke="#000" stroke-width="2.2" stroke-linecap="butt"/>
<line x1="129.60" y1="669.41" x2="135.60" y2="669.41" stroke="#000" stroke-width="2.2" stroke-linecap="butt"/>
<line x1="129.60" y1="663.74" x2="135.60" y2="663.74" stroke="#000" stroke-width="2.2" stroke-linecap="butt"/>
<line x1="129.60" y1="659.33" x2="135.60" y2="659.33" stroke="#000" stroke-width="2.2" stroke-linecap="butt"/>
<line x1="129.60" y1="655.73" x2="135.60" y2="655.73" stroke="#000" stroke-width="2.2" stroke-linecap="butt"/>
<line x1="129.60" y1="652.69" x2="135.60" y2="652.69" stroke="#000" stroke-width="2.2" stroke-linecap="butt"/>
<line x1="129.60" y1="650.05" x2="135.60" y2="650.05" stroke="#000" stroke-width="2.2" stroke-linecap="butt"/>
<line x1="129.60" y1="647.73" x2="135.60" y2="647.73" stroke="#000" stroke-width="2.2" stroke-linecap="butt"/>
<line x1="129.60" y1="631.97" x2="135.60" y2="631.97" stroke="#000" stroke-width="2.2" stroke-linecap="butt"/>
<line x1="129.60" y1="623.96" x2="135.60" y2="623.96" stroke="#000" stroke-width="2.2" stroke-linecap="butt"/>
<line x1="129.60" y1="618.29" x2="135.60" y2="618.29" stroke="#000" stroke-width="2.2" stroke-linecap="butt"/>
<line x1="129.60" y1="613.88" x2="135.60" y2="613.88" stroke="#000" stroke-width="2.2" stroke-linecap="butt"/>
<line x1="129.60" y1="610.28" x2="135.60" y2="610.28" stroke="#000" stroke-width="2.2" stroke-linecap="butt"/>
<line x1="129.60" y1="607.24" x2="135.60" y2="607.24" stroke="#000" stroke-width="2.2" stroke-linecap="butt"/>
<line x1="129.60" y1="604.60" x2="135.60" y2="604.60" stroke="#000" stroke-width="2.2" stroke-linecap="butt"/>
<line x1="129.60" y1="602.28" x2="135.60" y2="602.28" stroke="#000" stroke-width="2.2" stroke-linecap="butt"/>
<line x1="146.60" y1="977.00" x2="146.60" y2="990.70" stroke="#000" stroke-width="3" stroke-linecap="butt"/>
<text x="124.08" y="1022.30" font-size="28.50" font-weight="bold" textLength="45.12" lengthAdjust="spacingAndGlyphs" fill="#000" >-1.0</text>
<line x1="202.20" y1="977.00" x2="202.20" y2="983.50" stroke="#000" stroke-width="3" stroke-linecap="butt"/>
<line x1="259.70" y1="977.00" x2="259.70" y2="990.70" stroke="#000" stroke-width="3" stroke-linecap="butt"/>
<text x="237.11" y="1022.30" font-size="28.50" font-weight="bold" textLength="45.12" lengthAdjust="spacingAndGlyphs" fill="#000" >-0.5</text>
<line x1="314.40" y1="977.00" x2="314.40" y2="983.50" stroke="#000" stroke-width="3" stroke-linecap="butt"/>
<line x1="368.90" y1="977.00" x2="368.90" y2="990.70" stroke="#000" stroke-width="3" stroke-linecap="butt"/>
<text x="351.09" y="1022.30" font-size="28.50" font-weight="bold" textLength="35.63" lengthAdjust="spacingAndGlyphs" fill="#000" >0.0</text>
<line x1="426.30" y1="977.00" x2="426.30" y2="983.50" stroke="#000" stroke-width="3" stroke-linecap="butt"/>
<line x1="482.30" y1="977.00" x2="482.30" y2="990.70" stroke="#000" stroke-width="3" stroke-linecap="butt"/>
<text x="464.42" y="1022.30" font-size="28.50" font-weight="bold" textLength="35.62" lengthAdjust="spacingAndGlyphs" fill="#000" >0.5</text>
<line x1="537.70" y1="977.00" x2="537.70" y2="983.50" stroke="#000" stroke-width="3" stroke-linecap="butt"/>
<line x1="593.30" y1="977.00" x2="593.30" y2="990.70" stroke="#000" stroke-width="3" stroke-linecap="butt"/>
<text x="574.92" y="1022.30" font-size="28.50" font-weight="bold" textLength="35.62" lengthAdjust="spacingAndGlyphs" fill="#000" >1.0</text>
<text x="295.86" y="1070.50" font-size="44.60" font-weight="bold" textLength="149.39" lengthAdjust="spacingAndGlyphs" fill="#000" >V (Volt)</text>
<text transform="translate(30.00,885.60) rotate(-90)" x="-2.17" y="0" font-size="44.00" font-weight="bold" textLength="221.99" lengthAdjust="spacingAndGlyphs" >Current (A)</text>
<polyline points="145.5,664.5 145.9,664.8 146.5,665.3 147.3,665.8 148.1,666.4 149.0,667.0 150.0,667.7 151.2,668.4 152.5,669.1 153.7,669.8 155.0,670.5 156.2,671.1 157.5,671.7 158.8,672.2 160.0,672.6 161.3,673.0 162.6,673.2 163.9,673.3 165.3,673.4 166.5,673.5 167.6,673.6 168.4,673.8 169.1,673.9 169.6,674.2 170.4,674.5 171.4,674.9 172.8,675.5 174.4,676.2 176.2,677.0 178.1,677.8 180.2,678.7 182.5,679.6 185.0,680.5 187.6,681.4 190.2,682.5 192.8,683.6 195.2,684.9 197.6,686.3 199.9,687.8 202.4,689.3 205.0,690.8 207.7,692.2 210.6,693.6 213.5,695.0 216.6,696.5 220.0,698.1 223.7,699.9 227.6,701.9 231.8,704.0 235.9,706.1 240.0,708.3 244.0,710.5 248.0,712.7 252.0,714.9 256.0,717.2 260.0,719.5 264.0,721.9 268.0,724.3 272.0,726.8 276.0,729.3 280.0,731.9 284.1,734.7 288.2,737.5 292.4,740.4 296.3,743.3 300.0,746.1 303.3,748.7 306.4,751.1 309.2,753.5 312.1,756.0 315.0,758.7 318.1,761.6 321.2,764.7 324.4,767.9 327.3,771.1 330.0,774.0 332.3,776.7 334.4,779.1 336.2,781.5 338.1,784.0 340.0,786.8 342.1,789.9 344.2,793.3 346.3,796.7 348.3,800.1 350.0,803.4 351.5,806.4 352.7,809.1 353.9,811.9 354.9,814.8 356.0,818.0 357.1,821.5 358.1,825.3 359.2,829.2 360.1,833.5 361.0,838.0 361.8,842.9 362.6,848.2 363.3,853.6 363.9,859.3 364.5,865.0 365.0,870.8 365.4,876.6 365.8,882.6 366.2,888.8 366.5,895.0 366.9,901.9 367.2,909.6 367.5,917.0 367.8,923.5 368.0,928.0" fill="none" stroke="#444444" stroke-width="4.3" stroke-linejoin="round" stroke-linecap="round" />
<polyline points="222.0,665.0 223.1,664.3 224.6,663.3 226.4,662.3 228.0,661.5 229.5,661.0 231.0,660.7 232.5,660.5 234.0,660.5 235.5,660.6 236.9,660.9 238.4,661.3 240.0,661.7 241.7,662.1 243.4,662.5 245.4,663.1 247.8,664.3 250.9,666.2 254.5,668.6 258.2,671.2 262.0,674.0 265.7,676.8 269.4,679.7 273.2,682.8 277.0,686.0 280.8,689.4 284.6,693.0 288.4,696.6 292.0,700.0 295.5,703.3 298.9,706.4 302.1,709.4 305.0,712.0 307.5,714.1 309.8,715.9 311.9,717.4 314.0,719.0 316.3,720.5 318.5,721.8 320.7,723.2 322.8,725.0 324.7,727.1 326.5,729.5 328.3,732.2 330.0,735.0 331.7,738.2 333.4,741.8 335.0,745.3 336.5,748.4 337.9,750.8 339.2,752.7 340.5,754.7 341.9,757.0 343.6,759.9 345.3,763.0 347.2,766.4 349.0,770.0 350.9,773.8 352.8,777.9 354.6,782.1 356.1,786.0 357.3,789.5 358.2,792.8 359.0,796.1 360.0,800.0 361.2,804.5 362.5,809.3 363.8,814.5 365.0,820.0 366.1,825.9 367.1,832.2 368.1,838.6 369.0,845.0 369.8,851.2 370.6,857.5 371.3,863.8 372.0,870.0 372.7,876.4 373.4,882.8 374.0,889.1 374.5,895.0 374.9,900.5 375.2,905.6 375.5,910.4 375.8,915.0 376.1,919.5 376.3,924.0 376.5,927.7 376.7,930.4" fill="none" stroke="#444444" stroke-width="4.3" stroke-linejoin="round" stroke-linecap="round" />
<polyline points="368.0,928.0 368.4,926.5 369.0,924.3 369.8,921.8 370.5,919.0 371.3,916.4 372.0,914.0 372.7,911.9 373.3,909.9 374.0,907.9 374.7,906.0 375.3,904.0 376.0,902.0 376.7,900.0 377.4,898.0 378.1,896.0 378.8,893.9 379.5,891.8 380.2,889.6 380.9,887.3 381.5,884.8 382.1,882.3 382.8,879.8 383.4,877.4 384.0,875.0 384.6,872.9 385.1,871.2 385.6,869.5 386.1,867.6 386.8,865.1 387.6,861.9 388.6,857.6 389.9,852.5 391.2,846.8 392.5,841.0 393.8,835.4 395.0,830.4 396.1,825.8 397.0,821.5 398.0,817.3 398.9,813.3 399.8,809.7 400.6,806.3 401.4,803.3 402.1,800.8 402.8,798.5 403.5,796.3 404.3,794.2 405.0,792.0 405.8,789.8 406.5,787.6 407.2,785.5 408.0,783.3 408.9,781.0 409.9,778.5 411.0,775.8 412.3,772.9 413.6,769.9 415.0,766.9 416.5,763.9 418.0,761.0 419.5,758.2 421.0,755.5 422.5,752.8 424.2,750.2 426.0,747.6 428.0,745.0 430.3,742.4 433.0,739.7 435.8,737.1 438.6,734.5 441.1,732.1 443.3,730.0 445.0,728.2 446.4,726.6 447.5,725.2 448.6,723.9 449.7,722.5 451.0,721.0 452.4,719.4 453.9,717.8 455.4,716.1 456.9,714.4 458.4,712.7 460.0,711.0 461.6,709.3 463.1,707.5 464.7,705.8 466.4,704.0 468.1,702.3 470.0,700.5 472.1,698.7 474.4,696.9 476.8,695.2 479.2,693.4 481.5,691.7 483.7,690.0 485.7,688.4 487.6,686.8 489.4,685.3 491.2,683.8 493.1,682.4 495.0,681.0 497.0,679.6 499.0,678.3 501.1,677.0 503.2,675.8 505.3,674.6 507.4,673.4 509.5,672.3 511.6,671.1 513.8,670.1 515.9,669.0 518.0,668.0 520.0,667.0 521.9,666.1 523.7,665.2 525.5,664.3 527.3,663.4 529.1,662.5 531.0,661.6 532.9,660.6 534.9,659.6 537.0,658.6 539.0,657.5 541.0,656.5 543.0,655.5 545.1,654.5 547.3,653.5 549.4,652.4 551.5,651.5 553.3,650.5 554.7,649.7 555.7,648.9 556.3,648.2 556.6,647.6 556.8,647.0 556.9,646.6 557.1,646.2 560.6,633.1 561.2,632.3 561.8,631.2 562.7,629.9 563.8,628.5 565.0,627.1 566.5,626.0 568.3,625.0 570.4,624.2 572.7,623.3 575.1,622.5 577.6,621.8 580.0,621.0 582.6,620.2 585.4,619.3 588.3,618.5 591.1,617.7 593.4,617.1 595.0,616.6" fill="none" stroke="#444444" stroke-width="4.3" stroke-linejoin="round" stroke-linecap="round"/>
<polyline points="376.7,930.4 376.8,925.7 376.9,919.0 377.0,911.2 377.1,903.1 377.3,895.6 377.6,889.6 378.0,885.3 378.4,882.0 378.9,879.4 379.4,876.9 379.9,874.3 380.4,871.0 380.9,867.1 381.4,862.8 382.0,858.4 382.5,853.9 383.0,849.4 383.5,845.0 383.9,840.7 384.4,836.4 384.8,832.1 385.2,827.9 385.6,823.9 386.0,820.0 386.5,816.4 386.9,812.9 387.4,809.6 387.9,806.3 388.4,803.2 389.0,800.0 389.6,796.9 390.2,793.8 390.9,790.8 391.6,787.9 392.3,784.9 393.0,782.0 393.8,779.1 394.5,776.4 395.4,773.6 396.2,770.9 397.1,768.0 398.0,765.0 399.0,761.8 400.0,758.4 401.0,754.9 402.0,751.4 403.1,748.1 404.2,745.0 405.3,742.2 406.3,739.6 407.4,737.1 408.5,734.7 409.7,732.4 411.0,730.0 412.3,727.6 413.7,725.2 415.2,722.9 416.7,720.6 418.3,718.3 420.0,716.0 421.8,713.7 423.7,711.4 425.8,709.1 427.8,706.9 429.9,704.9 432.0,703.0 434.1,701.4 436.2,700.0 438.3,698.7 440.5,697.5 442.7,696.3 445.0,695.0 447.4,693.7 450.0,692.3 452.6,690.9 455.1,689.6 457.7,688.3 460.0,687.0 462.2,685.8 464.2,684.5 466.2,683.3 468.1,682.2 470.1,681.1 472.0,680.0 474.0,679.0 475.9,678.1 477.9,677.2 479.8,676.4 481.8,675.5 483.7,674.6 485.6,673.6 487.5,672.6 489.3,671.6 491.2,670.5 493.1,669.5 495.0,668.5 497.1,667.4 499.5,666.3 501.9,665.2 504.1,664.2 506.0,663.3 507.4,662.7 509.7,654.5 510.7,653.9 512.0,653.2 513.6,652.3 515.5,651.3 517.6,650.2 520.0,649.0 522.8,647.7 526.0,646.3 529.5,644.8 533.1,643.2 536.7,641.6 540.0,640.0 543.3,638.3 546.7,636.5 550.1,634.7 553.3,632.9 556.1,631.3 558.3,630.0 559.7,629.0 560.4,628.3 560.7,627.7 561.0,627.2 561.7,626.7 563.0,626.0 565.1,625.2 567.8,624.4 570.9,623.5 574.0,622.7 577.1,621.8 580.0,621.0 582.8,620.2 585.7,619.3 588.6,618.5 591.2,617.7 593.4,617.1 595.0,616.6" fill="none" stroke="#444444" stroke-width="4.3" stroke-linejoin="round" stroke-linecap="round"/>
<polyline points="145.5,657.5 147.4,658.1 150.0,658.9 153.1,660.0 156.5,661.1 160.0,662.3 163.6,663.6 167.6,665.0 171.7,666.6 175.9,668.1 180.0,669.7 184.0,671.3 188.0,672.9 192.0,674.5 196.0,676.2 200.0,677.9 204.0,679.6 208.0,681.4 212.0,683.2 216.0,685.0 220.0,686.9 224.0,688.8 228.0,690.8 232.0,692.9 236.0,695.0 240.0,697.1 244.0,699.3 248.0,701.5 252.0,703.8 256.0,706.2 260.0,708.6 264.0,711.1 268.0,713.7 272.0,716.4 276.0,719.1 280.0,722.0 284.1,725.1 288.2,728.3 292.4,731.6 296.3,734.9 300.0,738.1 303.4,741.2 306.6,744.2 309.6,747.1 312.4,750.0 315.0,752.7 317.4,755.1 319.6,757.2 321.6,759.3 323.6,761.8 325.6,765.0 327.7,769.2 329.9,774.2 332.0,779.6 334.1,785.0 336.0,790.0 337.8,794.6 339.4,799.0 341.0,803.3 342.5,807.6 344.0,812.0 345.5,816.5 346.9,821.0 348.3,825.6 349.7,830.3 351.0,835.0 352.3,839.9 353.5,844.9 354.7,849.9 355.9,855.0 357.0,860.0 358.1,865.0 359.1,870.1 360.2,875.1 361.1,880.1 362.0,885.0 362.8,889.8 363.6,894.5 364.2,899.1 364.9,903.6 365.5,908.0 366.1,912.5 366.7,917.2 367.2,921.6 367.7,925.3 368.0,928.0" fill="none" stroke="#f23237" stroke-width="4.3" stroke-linejoin="round" stroke-linecap="round" />
<polyline points="145.5,640.5 148.9,640.8 153.7,641.3 159.3,641.9 165.0,642.5 170.8,643.1 177.0,643.7 183.4,644.4 189.7,645.3 196.2,646.4 203.0,647.6 209.4,648.8 215.0,650.0 219.5,651.2 223.3,652.4 226.7,653.5 230.0,654.3 233.3,654.9 236.5,655.3 239.3,655.5 241.8,655.5 243.6,655.0 244.8,654.2 246.0,653.4 247.8,653.1 250.5,653.6 253.8,654.6 257.0,655.6 259.6,656.0 261.3,655.5 262.3,654.3 263.2,653.2 264.3,652.5 265.6,652.6 267.0,653.0 268.4,653.6 270.0,654.2 271.8,654.6 273.6,655.0 275.6,655.4 277.4,656.0 279.1,656.8 280.7,657.9 282.3,658.9 283.9,659.7 285.4,660.2 286.9,660.4 288.4,660.6 290.0,661.0 291.8,661.6 293.8,662.2 295.9,663.0 297.8,663.9 299.7,665.0 301.5,666.3 303.2,667.6 305.0,669.0 306.8,670.5 308.5,672.1 310.2,673.7 311.7,675.0 313.0,676.1 314.0,676.9 315.0,677.7 316.0,678.5 317.0,679.3 318.1,680.1 319.1,681.0 320.0,682.0 320.7,683.3 321.3,684.8 321.9,686.3 322.8,687.5 324.0,688.1 325.6,688.3 327.1,688.8 328.3,690.3 329.2,693.4 329.9,697.7 330.5,702.1 331.1,705.6 331.7,707.8 332.3,709.3 333.0,710.7 333.9,712.5 335.0,714.9 336.3,717.5 337.8,720.4 339.4,723.6 341.3,727.0 343.4,730.6 345.6,734.5 347.8,738.9 349.9,744.0 352.1,749.7 354.2,755.5 356.1,761.1 357.7,766.5 359.2,771.8 360.5,776.9 361.7,781.9 362.8,786.8 363.8,791.6 364.8,796.1 365.8,800.0 366.9,803.1 368.0,805.7 369.0,807.9 370.0,810.0 370.8,811.9 371.6,813.6 372.3,815.2 373.0,817.0 373.8,819.1 374.7,821.4 375.5,823.5 376.0,825.0" fill="none" stroke="#f23237" stroke-width="3.0" stroke-linejoin="round" stroke-linecap="round" />
<polyline points="368.0,928.0 368.3,925.8 368.7,922.8 369.2,919.2 369.8,915.4 370.4,911.6 371.0,908.0 371.6,904.7 372.2,901.3 372.9,898.0 373.6,894.7 374.3,891.3 375.0,888.0 375.7,884.7 376.4,881.3 377.2,878.0 377.9,874.7 378.7,871.3 379.5,868.0 380.3,864.6 381.1,861.3 381.9,857.9 382.8,854.5 383.6,851.2 384.5,848.0 385.4,844.9 386.3,841.8 387.2,838.8 388.1,835.9 389.0,832.9 390.0,830.0 391.0,827.1 392.0,824.3 393.0,821.5 394.0,818.7 395.0,815.9 396.0,813.0 396.9,810.0 397.8,806.9 398.7,803.8 399.6,800.7 400.5,797.8 401.3,795.0 402.1,792.4 402.9,790.0 403.7,787.7 404.4,785.4 405.2,783.2 406.0,781.0 406.8,778.8 407.6,776.6 408.4,774.4 409.2,772.3 410.1,770.2 411.0,768.0 411.9,765.8 412.9,763.5 413.9,761.2 415.0,759.0 416.0,756.9 417.0,755.0 418.0,753.3 418.9,751.8 419.9,750.4 420.9,749.0 421.9,747.6 423.0,746.0 424.2,744.2 425.6,742.4 427.0,740.4 428.4,738.5 429.8,736.7 431.0,735.0 432.1,733.5 433.1,732.1 434.1,730.9 435.1,729.6 436.0,728.4 437.0,727.0 438.0,725.6 439.0,724.1 440.0,722.6 441.1,721.0 442.2,719.5 443.3,718.0 444.5,716.5 445.7,715.0 447.0,713.5 448.3,712.0 449.6,710.5 451.0,709.0 452.4,707.5 453.9,706.0 455.4,704.5 456.9,703.0 458.4,701.5 460.0,700.0 461.6,698.5 463.1,697.0 464.7,695.6 466.4,694.1 468.1,692.6 470.0,691.0 472.1,689.4 474.4,687.7 476.8,685.9 479.2,684.2 481.5,682.6 483.7,681.0 485.7,679.5 487.6,678.2 489.4,676.8 491.2,675.6 493.1,674.3 495.0,673.0 497.0,671.7 499.0,670.4 501.1,669.2 503.2,667.9 505.3,666.7 507.4,665.5 509.5,664.3 511.6,663.2 513.8,662.1 515.9,661.1 518.0,660.0 520.0,659.0 521.9,658.0 523.7,657.0 525.5,656.1 527.3,655.1 529.1,654.2 531.0,653.3 532.9,652.4 534.9,651.5 537.0,650.6 539.0,649.7 541.0,648.8 543.0,648.0 545.0,647.2 547.0,646.5 549.0,645.8 550.9,645.1 552.8,644.5 554.7,643.8 556.5,643.1 558.3,642.5 560.0,641.8 561.7,641.2 563.4,640.6 565.0,640.0 566.6,639.4 568.3,638.7 569.9,638.1 571.4,637.5 572.7,637.1 573.6,636.7 576.0,623.7 576.9,623.1 578.1,622.2 579.5,621.1 581.0,620.0 582.7,618.9 584.3,617.8 586.1,616.7 588.1,615.6 590.2,614.4 592.1,613.4 593.8,612.5 595.0,611.8" fill="none" stroke="#f23237" stroke-width="4.3" stroke-linejoin="round" stroke-linecap="round"/>
<polyline points="376.0,825.0 376.1,823.8 376.2,822.3 376.4,820.3 376.7,817.9 377.0,815.0 377.5,811.4 378.0,807.0 378.6,802.3 379.3,797.6 380.0,793.3 380.7,789.4 381.5,785.6 382.3,781.9 383.2,778.4 384.0,775.0 384.8,771.8 385.7,768.8 386.5,765.8 387.4,762.9 388.3,760.0 389.2,757.0 390.1,754.0 391.1,751.0 392.0,748.0 393.0,745.0 394.0,742.0 395.1,738.9 396.1,735.8 397.2,732.8 398.3,730.0 399.4,727.4 400.5,725.0 401.7,722.6 402.8,720.3 404.0,718.0 405.1,715.7 406.3,713.4 407.4,711.2 408.7,709.0 410.0,706.7 411.5,704.4 413.0,702.0 414.7,699.6 416.3,697.2 418.0,695.0 419.7,692.9 421.4,690.8 423.2,688.8 425.0,686.8 426.7,685.0 428.4,683.3 430.0,681.6 431.7,680.0 433.3,678.5 435.0,677.0 436.5,675.6 437.9,674.3 439.4,673.0 441.1,671.6 443.3,670.0 446.1,668.2 449.3,666.2 452.8,664.1 456.5,662.0 460.0,660.0 463.5,658.1 467.0,656.1 470.6,654.2 474.2,652.4 477.8,650.5 481.3,648.7 484.6,646.8 488.0,645.0 491.6,643.3 495.5,641.5 499.9,639.8 504.5,638.1 509.4,636.4 514.4,634.7 519.2,633.0 523.9,631.3 528.7,629.5 533.4,627.8 538.2,626.1 542.9,624.5 547.5,623.0 552.1,621.6 556.7,620.2 561.5,618.9 566.5,617.5 572.3,616.0 578.9,614.4 585.4,612.8 591.0,611.5 595.0,610.5" fill="none" stroke="#f23237" stroke-width="2.6" stroke-linejoin="round" stroke-linecap="round" />
<polyline points="145.5,640.2 148.6,640.8 152.9,641.8 158.0,642.8 163.2,644.0 168.0,645.0 172.3,645.9 176.4,646.6 180.5,647.5 185.0,648.5 190.0,650.0 195.7,651.8 202.0,654.0 208.6,656.4 215.4,659.1 222.0,662.0 228.7,665.4 235.8,669.2 242.7,673.2 249.2,677.1 255.0,680.5 259.8,683.4 263.9,686.0 267.6,688.4 271.2,690.8 275.0,693.3 279.1,695.9 283.2,698.6 287.4,701.2 291.3,703.8 295.0,706.3 298.4,708.7 301.6,710.9 304.6,713.1 307.4,715.3 310.0,717.5 312.3,719.7 314.3,721.8 316.1,724.0 318.0,726.3 320.0,728.9 322.3,731.8 324.7,735.0 327.2,738.4 329.7,741.9 332.0,745.5 334.2,749.1 336.2,752.8 338.2,756.7 340.2,760.7 342.2,765.0 344.3,769.7 346.4,774.7 348.5,780.0 350.5,785.1 352.2,790.0 353.7,794.6 354.9,799.0 356.0,803.3 357.0,807.6 358.0,812.0 358.9,816.5 359.8,821.0 360.6,825.6 361.3,830.3 362.0,835.0 362.7,839.8 363.3,844.6 363.9,849.5 364.4,854.6 365.0,860.0 365.5,865.8 366.1,871.9 366.6,878.1 367.1,884.2 367.5,890.0 367.9,895.7 368.2,901.6 368.6,907.0 368.8,911.7 369.0,915.0" fill="none" stroke="#1464e6" stroke-width="4.3" stroke-linejoin="round" stroke-linecap="round" />
<polyline points="145.5,640.2 149.1,641.0 154.3,642.1 160.0,643.3 165.0,644.5 168.9,645.5 172.5,646.6 176.0,647.6 180.0,648.7 184.6,649.8 189.7,651.0 194.9,652.2 200.0,653.5 205.0,654.8 210.0,656.2 215.0,657.6 220.0,659.0 225.1,660.3 230.4,661.6 235.4,662.9 240.0,664.0 243.8,665.0 247.0,665.8 250.1,666.6 253.7,667.5 258.1,668.5 262.9,669.6 267.5,670.7 271.4,672.0 274.2,673.3 276.2,674.7 278.0,676.3 280.0,678.0 282.3,680.1 284.6,682.4 286.9,684.7 289.2,686.8 291.4,688.5 293.7,690.1 295.9,691.5 298.0,693.0 300.1,694.5 302.1,695.9 304.0,697.4 306.0,699.0 308.0,700.8 310.0,702.8 312.0,704.9 314.0,707.0 316.0,709.1 318.0,711.2 320.0,713.5 322.0,716.0 324.0,718.7 326.0,721.7 328.0,724.8 330.0,728.0 332.0,731.3 334.0,734.8 336.0,738.4 338.0,742.0 340.0,745.7 342.0,749.4 344.0,753.2 346.0,757.0 348.0,760.9 350.1,764.9 352.1,769.0 354.0,773.0 355.8,777.0 357.6,781.1 359.3,785.1 361.0,789.0 362.6,792.8 364.2,796.6 365.7,800.3 367.0,804.0 368.2,807.5 369.2,810.9 370.2,814.3 371.0,818.0 371.8,822.1 372.5,826.4 373.1,830.8 373.5,835.0 373.8,839.2 373.9,843.6 374.0,847.4 374.0,850.0" fill="none" stroke="#1464e6" stroke-width="4.3" stroke-linejoin="round" stroke-linecap="round" />
<polyline points="369.0,915.0 369.3,911.6 369.6,906.8 370.0,901.2 370.5,895.4 371.0,890.0 371.5,885.0 372.1,880.0 372.7,875.0 373.3,870.0 374.0,865.0 374.7,860.0 375.5,854.9 376.3,849.8 377.2,844.8 378.0,840.0 378.9,835.3 379.8,830.6 380.7,826.2 381.6,821.9 382.5,818.0 383.4,814.5 384.3,811.4 385.2,808.5 386.1,805.8 387.0,803.0 387.9,800.3 388.9,797.7 389.8,795.2 390.8,792.6 391.7,790.0 392.6,787.3 393.4,784.5 394.2,781.6 395.1,778.8 396.0,776.0 396.9,773.2 397.8,770.5 398.8,767.8 399.8,765.0 401.0,762.0 402.3,758.7 403.8,755.2 405.4,751.6 406.9,748.1 408.3,745.0 409.5,742.3 410.6,739.9 411.7,737.6 412.8,735.4 414.0,733.0 415.3,730.5 416.6,728.1 418.0,725.6 419.5,722.9 421.0,720.0 422.7,716.6 424.4,712.9 426.2,709.0 428.1,705.3 430.0,702.0 431.9,699.2 433.8,696.7 435.8,694.4 437.9,692.2 440.0,690.0 442.3,687.9 444.6,685.9 447.0,683.9 449.5,682.0 452.0,680.0 454.5,678.0 457.1,676.0 459.8,674.0 462.4,672.0 465.0,670.0 467.6,668.0 470.2,665.9 472.9,663.9 475.5,661.9 478.0,660.0 480.5,658.2 483.0,656.6 485.4,655.0 487.7,653.4 490.0,652.0 492.0,650.7 493.7,649.6 495.4,648.6 497.4,647.4 500.0,646.0 503.2,644.2 506.8,642.2 510.8,640.1 514.9,638.0 519.2,636.0 523.7,634.1 528.4,632.3 533.2,630.5 538.1,628.8 542.9,627.0 547.5,625.3 552.1,623.5 556.7,621.8 561.5,620.1 566.5,618.5 572.3,616.8 578.9,615.1 585.4,613.4 591.0,612.0 595.0,611.0" fill="none" stroke="#1464e6" stroke-width="4.3" stroke-linejoin="round" stroke-linecap="round" />
<polyline points="373.0,848.0 373.3,845.6 373.6,842.2 374.0,838.2 374.5,834.0 375.0,830.0 375.5,826.1 376.1,822.0 376.7,818.0 377.3,813.9 378.0,810.0 378.7,806.2 379.5,802.6 380.3,799.0 381.1,795.4 382.0,792.0 382.9,788.7 383.9,785.5 384.9,782.3 385.9,779.2 387.0,776.0 388.1,772.8 389.3,769.5 390.6,766.3 391.8,763.1 393.0,760.0 394.2,757.1 395.4,754.2 396.6,751.4 397.8,748.7 399.0,746.0 400.2,743.3 401.4,740.7 402.5,738.1 403.7,735.5 405.0,733.0 406.3,730.5 407.7,728.1 409.2,725.7 410.6,723.3 412.0,721.0 413.4,718.7 414.8,716.5 416.1,714.3 417.5,712.1 419.0,710.0 420.5,707.9 422.1,705.9 423.7,704.0 425.3,702.0 427.0,700.0 428.7,698.0 430.5,696.0 432.3,693.9 434.1,691.9 436.0,690.0 437.9,688.2 439.7,686.4 441.7,684.7 443.7,682.9 446.0,681.0 448.5,679.0 451.1,676.8 453.9,674.6 456.9,672.4 460.0,670.0 463.3,667.5 466.9,664.8 470.5,662.2 474.2,659.5 477.8,657.0 481.3,654.7 484.6,652.4 488.0,650.3 491.6,648.1 495.5,646.0 499.9,643.8 504.5,641.7 509.4,639.6 514.4,637.5 519.2,635.5 523.9,633.6 528.7,631.7 533.4,630.0 538.2,628.2 542.9,626.5 547.5,624.8 552.1,623.2 556.7,621.6 561.5,620.1 566.5,618.5 572.3,616.8 578.9,615.1 585.4,613.4 591.0,612.0 595.0,611.0" fill="none" stroke="#1464e6" stroke-width="4.3" stroke-linejoin="round" stroke-linecap="round" />
<polyline points="145.5,644.0 148.2,644.7 152.1,645.7 156.6,646.8 161.1,648.0 165.0,649.0 168.2,649.8 171.1,650.6 173.9,651.4 176.8,652.2 180.0,653.0 183.6,653.9 187.5,654.9 191.6,655.9 195.8,656.9 200.0,658.0 204.2,659.1 208.5,660.3 212.8,661.5 217.3,662.7 222.0,664.0 227.1,665.3 232.5,666.7 237.9,668.1 243.1,669.5 247.8,671.0 251.8,672.5 255.4,674.1 258.7,675.8 261.8,677.4 265.0,679.0 268.1,680.6 271.2,682.1 274.1,683.6 277.0,685.2 280.0,687.0 283.0,689.0 286.1,691.3 289.2,693.6 292.2,695.9 295.0,698.0 297.6,699.9 300.1,701.7 302.4,703.4 304.7,705.2 307.0,707.0 309.3,708.9 311.5,710.8 313.7,712.7 315.9,714.8 318.0,717.0 320.1,719.3 322.1,721.8 324.1,724.4 326.1,727.1 328.0,730.0 329.9,733.1 331.8,736.5 333.6,740.0 335.3,743.5 337.0,747.0 338.5,750.4 340.0,753.8 341.4,757.1 342.7,760.5 344.0,764.0 345.3,767.5 346.5,771.1 347.8,774.8 348.9,778.4 350.0,782.0 351.0,785.6 351.9,789.2 352.8,792.8 353.7,796.4 354.5,800.0 355.3,803.6 356.2,807.1 357.0,810.7 357.8,814.3 358.5,818.0 359.2,821.8 359.8,825.8 360.4,829.8 360.9,833.8 361.5,838.0 362.0,842.2 362.6,846.5 363.0,850.9 363.5,855.4 364.0,860.0 364.5,864.8 364.9,869.8 365.4,874.9 365.8,880.0 366.2,885.0 366.6,890.2 367.0,895.5 367.4,900.7 367.7,905.6 368.0,910.0 368.3,913.9 368.5,917.4 368.7,920.6 368.9,923.1 369.0,925.0" fill="none" stroke="#28a064" stroke-width="4.3" stroke-linejoin="round" stroke-linecap="round" />
<polyline points="145.5,644.0 149.1,644.8 154.3,646.0 160.0,647.3 165.0,648.5 168.9,649.5 172.5,650.5 176.0,651.5 180.0,652.6 184.6,653.8 189.7,655.0 194.9,656.3 200.0,657.5 204.8,658.6 209.5,659.6 214.5,660.7 220.0,662.0 226.8,663.6 234.4,665.4 241.8,667.1 247.8,668.5 252.0,669.3 255.0,669.8 257.5,670.1 260.0,670.5 262.6,670.9 264.9,671.3 267.3,671.7 270.0,672.2 273.2,672.7 276.7,673.3 280.3,674.0 283.9,675.0 287.4,676.3 290.8,677.9 294.3,679.8 297.8,682.0 301.3,684.7 304.9,687.9 308.4,691.3 311.7,694.4 314.9,697.4 317.9,700.3 320.7,703.1 322.8,705.6 324.0,707.6 324.6,709.2 324.9,710.7 325.6,712.5 326.8,714.6 328.1,716.7 329.5,719.2 331.0,722.0 332.4,725.4 333.8,729.2 335.3,733.1 337.0,737.0 338.9,740.7 340.9,744.4 343.0,748.2 345.0,752.0 347.0,755.9 349.1,759.8 351.1,763.8 353.0,768.0 354.8,772.3 356.6,776.8 358.3,781.4 360.0,786.0 361.6,790.8 363.1,795.7 364.6,800.5 366.0,805.0 367.3,809.1 368.6,812.9 369.8,816.5 371.0,820.0 372.3,823.7 373.7,827.4 374.9,830.7 375.8,833.0" fill="none" stroke="#28a064" stroke-width="4.3" stroke-linejoin="round" stroke-linecap="round" />
<polyline points="366.6,928.5 366.9,925.8 367.3,922.1 367.7,917.7 368.2,913.1 368.7,908.7 369.2,905.0 369.7,902.0 370.2,899.4 370.6,897.1 371.1,894.7 371.7,892.3 372.2,889.6 372.7,886.6 373.3,883.3 373.9,879.9 374.5,876.5 375.1,873.2 375.7,870.0 376.3,867.0 377.0,864.0 377.6,861.1 378.3,858.3 379.0,855.4 379.6,852.6 380.2,849.8 380.8,847.0 381.4,844.2 382.0,841.5 382.6,838.7 383.2,836.0 383.8,833.3 384.5,830.6 385.1,827.9 385.8,825.2 386.5,822.6 387.2,820.0 388.0,817.4 388.8,814.9 389.6,812.4 390.5,810.0 391.3,807.5 392.2,805.0 393.1,802.5 394.0,799.9 394.9,797.3 395.8,794.8 396.6,792.3 397.5,790.0 398.3,787.9 399.1,785.9 399.8,784.1 400.6,782.2 401.3,780.2 402.2,778.0 403.1,775.6 404.1,773.0 405.1,770.3 406.1,767.6 407.1,764.8 408.2,762.0 409.3,759.2 410.4,756.2 411.6,753.2 412.7,750.3 413.9,747.6 415.0,745.0 416.0,742.7 417.0,740.7 418.0,738.8 419.0,736.9 420.1,735.0 421.2,733.0 422.4,730.9 423.7,728.7 425.1,726.5 426.4,724.3 427.8,722.1 429.2,720.0 430.6,717.9 432.0,715.8 433.4,713.8 434.8,711.7 436.1,709.8 437.5,708.0 438.8,706.3 440.1,704.7 441.4,703.2 442.7,701.7 444.0,700.3 445.2,699.0 446.4,697.7 447.6,696.5 448.7,695.4 449.9,694.3 451.0,693.1 452.2,692.0 453.3,690.8 454.4,689.7 455.5,688.6 456.6,687.4 457.9,686.2 459.2,685.0 460.7,683.7 462.2,682.5 463.8,681.2 465.5,679.9 467.3,678.5 469.2,677.0 471.3,675.4 473.6,673.7 476.0,671.9 478.4,670.2 480.7,668.5 482.9,667.0 484.9,665.7 486.8,664.4 488.6,663.3 490.4,662.2 492.3,661.1 494.2,660.0 496.2,658.9 498.2,657.7 500.3,656.6 502.4,655.5 504.5,654.4 506.6,653.3 508.7,652.2 510.8,651.1 513.0,650.1 515.1,649.0 517.2,648.0 519.2,647.0 521.1,646.0 522.9,645.1 524.6,644.2 526.4,643.3 528.2,642.4 530.2,641.4 532.5,640.3 535.2,639.1 537.9,637.8 540.5,636.7 542.6,635.7 544.2,635.0 545.7,634.2 548.0,633.2 550.6,631.9 553.2,630.6 555.6,629.4 557.5,628.4 558.8,627.6 559.9,626.9 560.7,626.2 561.3,625.7 561.8,625.2 562.2,624.9 562.2,624.5 562.0,624.0 561.9,623.4 562.0,622.7 562.4,622.0 563.4,621.3 565.0,620.6 567.1,619.8 569.5,619.0 572.2,618.2 574.9,617.4 577.6,616.6 580.4,615.8 583.6,614.8 586.8,613.9 589.8,613.0 592.4,612.3 594.2,611.8" fill="none" stroke="#28a064" stroke-width="4.3" stroke-linejoin="round" stroke-linecap="round"/>
<polyline points="375.8,833.3 375.9,831.3 376.1,828.4 376.4,825.0 376.7,821.5 377.0,818.0 377.4,814.6 377.9,811.0 378.4,807.3 378.9,803.6 379.5,800.0 380.1,796.4 380.8,792.7 381.5,789.1 382.2,785.5 383.0,782.0 383.8,778.6 384.7,775.4 385.6,772.2 386.5,769.0 387.5,766.0 388.5,763.0 389.6,760.2 390.7,757.4 391.9,754.6 393.0,752.0 394.2,749.5 395.3,747.1 396.5,744.7 397.8,742.4 399.0,740.0 400.3,737.6 401.5,735.2 402.8,732.7 404.2,730.3 405.5,728.0 406.9,725.7 408.2,723.5 409.6,721.4 411.1,719.2 412.5,717.0 414.0,714.8 415.4,712.6 416.9,710.3 418.5,708.1 420.0,706.0 421.6,703.9 423.1,701.9 424.7,700.0 426.3,698.0 428.0,696.0 429.7,694.0 431.5,692.0 433.3,689.9 435.1,687.9 437.0,686.0 438.9,684.2 440.8,682.4 442.7,680.6 444.8,678.8 447.0,677.0 449.3,675.1 451.8,673.3 454.3,671.4 457.0,669.3 460.0,667.0 463.3,664.3 466.8,661.2 470.5,658.0 474.2,654.8 477.8,652.0 481.3,649.5 484.6,647.2 488.0,645.0 491.6,643.0 495.5,641.0 499.9,639.1 504.5,637.4 509.4,635.8 514.4,634.2 519.2,632.5 523.9,630.8 528.7,629.0 533.4,627.3 538.2,625.6 542.9,624.0 547.5,622.5 552.1,621.1 556.7,619.7 561.5,618.4 566.5,617.0 572.3,615.5 578.9,613.8 585.4,612.2 591.0,610.8 595.0,609.8" fill="none" stroke="#28a064" stroke-width="4.3" stroke-linejoin="round" stroke-linecap="round" />
<polyline points="145.5,646.5 148.2,647.3 152.1,648.4 156.6,649.7 161.1,650.9 165.0,652.0 168.2,652.9 171.1,653.6 173.9,654.3 176.8,655.0 180.0,655.8 183.6,656.7 187.5,657.6 191.6,658.6 195.8,659.5 200.0,660.5 204.1,661.4 208.1,662.1 212.3,663.0 216.9,664.0 222.0,665.5 228.0,667.4 234.8,669.7 241.8,672.2 248.7,674.9 255.0,677.5 260.6,680.2 265.8,682.9 270.7,685.8 275.4,688.6 280.0,691.5 284.3,694.3 288.4,697.0 292.2,699.9 296.1,702.8 300.0,706.0 304.1,709.5 308.4,713.3 312.6,717.2 316.6,721.1 320.0,725.0 322.8,728.8 325.2,732.5 327.3,736.3 329.1,740.1 331.0,744.0 332.8,748.0 334.3,752.1 335.8,756.2 337.3,760.5 338.9,765.0 340.7,769.8 342.7,774.9 344.7,780.0 346.6,785.1 348.3,790.0 349.7,794.6 350.9,799.0 352.0,803.3 353.0,807.6 354.0,812.0 355.0,816.5 355.9,821.0 356.8,825.6 357.7,830.3 358.5,835.0 359.3,839.8 360.0,844.6 360.7,849.5 361.4,854.6 362.0,860.0 362.6,865.7 363.2,871.6 363.8,877.8 364.3,883.9 364.8,890.0 365.2,896.0 365.6,901.9 365.9,907.9 366.2,913.9 366.5,920.0 366.7,926.8 367.0,934.2 367.1,941.4 367.3,947.6 367.4,952.0" fill="none" stroke="#aa69e1" stroke-width="4.3" stroke-linejoin="round" stroke-linecap="round" />
<polyline points="145.5,646.5 149.1,647.4 154.3,648.7 160.0,650.2 165.0,651.5 168.9,652.6 172.5,653.6 176.0,654.7 180.0,655.8 184.6,657.0 189.7,658.4 194.9,659.7 200.0,661.0 205.0,662.3 210.0,663.7 215.0,664.9 220.0,666.0 225.0,666.8 230.0,667.3 235.0,667.8 240.0,668.5 245.1,669.4 250.3,670.5 255.4,671.7 260.0,673.0 264.1,674.3 267.8,675.8 271.3,677.3 275.0,679.0 279.0,681.0 283.2,683.3 287.2,685.5 290.8,687.5 293.7,689.1 296.2,690.3 298.5,691.6 301.0,693.0 303.6,694.6 306.3,696.3 309.0,698.1 311.7,700.0 314.3,702.1 316.9,704.3 319.4,706.6 322.0,709.0 324.7,711.4 327.4,714.0 330.1,716.6 332.5,719.4 334.6,722.3 336.5,725.4 338.2,728.6 340.0,732.0 341.8,735.5 343.5,739.2 345.3,743.0 347.0,747.0 348.8,751.3 350.6,755.8 352.3,760.4 354.0,765.0 355.6,769.7 357.1,774.5 358.6,779.3 360.0,784.0 361.3,788.6 362.6,793.1 363.8,797.5 365.0,802.0 366.1,806.5 367.1,811.0 368.1,815.5 369.0,820.0 369.8,824.5 370.6,829.0 371.3,833.5 372.0,838.0 372.7,843.1 373.3,848.5 373.8,853.3 374.2,856.7" fill="none" stroke="#aa69e1" stroke-width="4.3" stroke-linejoin="round" stroke-linecap="round" />
<polyline points="367.4,952.0 367.5,949.4 367.5,945.7 367.6,941.4 367.7,936.8 367.8,932.2 368.0,928.0 368.2,924.0 368.3,920.0 368.6,916.0 368.8,912.1 369.1,908.4 369.4,905.0 369.8,902.0 370.3,899.5 370.8,897.1 371.3,894.8 371.9,892.3 372.4,889.6 372.9,886.6 373.5,883.3 374.1,879.9 374.7,876.5 375.3,873.2 375.9,870.0 376.5,867.0 377.2,864.0 377.8,861.1 378.5,858.3 379.2,855.4 379.8,852.6 380.4,849.8 381.0,847.0 381.6,844.2 382.2,841.5 382.8,838.7 383.4,836.0 384.0,833.3 384.7,830.6 385.3,827.9 386.0,825.2 386.7,822.6 387.4,820.0 388.2,817.4 389.0,814.9 389.8,812.4 390.7,810.0 391.5,807.5 392.4,805.0 393.3,802.5 394.2,799.9 395.1,797.3 396.0,794.8 396.8,792.3 397.7,790.0 398.5,787.9 399.3,785.9 400.0,784.1 400.8,782.2 401.5,780.2 402.4,778.0 403.3,775.6 404.3,773.0 405.3,770.3 406.3,767.6 407.3,764.8 408.4,762.0 409.5,759.2 410.6,756.2 411.8,753.2 412.9,750.3 414.1,747.6 415.2,745.0 416.2,742.7 417.2,740.7 418.2,738.8 419.2,736.9 420.3,735.0 421.4,733.0 422.6,730.9 423.9,728.7 425.3,726.5 426.6,724.3 428.0,722.1 429.4,720.0 430.8,717.9 432.2,715.8 433.6,713.8 435.0,711.7 436.3,709.8 437.7,708.0 439.0,706.3 440.3,704.7 441.6,703.2 442.9,701.7 444.2,700.3 445.4,699.0 446.6,697.7 447.8,696.5 448.9,695.4 450.1,694.3 451.2,693.1 452.4,692.0 453.5,690.8 454.6,689.7 455.7,688.6 456.8,687.4 458.1,686.2 459.4,685.0 460.9,683.7 462.4,682.5 464.0,681.2 465.7,679.9 467.5,678.5 469.4,677.0 471.5,675.4 473.8,673.7 476.2,671.9 478.6,670.2 480.9,668.5 483.1,667.0 485.1,665.7 487.0,664.4 488.8,663.3 490.6,662.2 492.5,661.1 494.4,660.0 496.4,658.9 498.4,657.7 500.5,656.6 502.6,655.5 504.7,654.4 506.8,653.3 508.9,652.2 511.0,651.1 513.2,650.1 515.3,649.0 517.4,648.0 519.4,647.0 521.3,646.0 523.1,645.1 524.8,644.2 526.6,643.3 528.4,642.4 530.4,641.4 532.7,640.3 535.4,639.1 538.1,637.8 540.7,636.7 542.8,635.7 544.4,635.0 545.9,634.2 548.2,633.2 550.8,631.9 553.4,630.6 555.8,629.4 557.7,628.4 559.0,627.6 560.1,626.9 560.9,626.2 561.5,625.7 562.0,625.2 562.4,624.9 562.4,624.5 562.2,624.0 562.1,623.4 562.2,622.7 562.6,622.0 563.6,621.3 565.2,620.6 567.3,619.8 569.7,619.0 572.4,618.2 575.1,617.4 577.8,616.6 580.6,615.8 583.8,614.8 587.0,613.9 590.0,613.0 592.6,612.3 594.4,611.8" fill="none" stroke="#aa69e1" stroke-width="4.3" stroke-linejoin="round" stroke-linecap="round"/>
<polyline points="374.2,856.7 374.4,854.2 374.6,850.6 374.9,846.5 375.2,842.1 375.5,838.0 375.8,834.1 376.2,830.1 376.6,826.1 377.0,822.0 377.5,818.0 378.0,814.0 378.6,809.9 379.2,805.9 379.8,801.9 380.5,798.0 381.2,794.2 382.0,790.5 382.8,786.9 383.7,783.4 384.5,780.0 385.4,776.8 386.2,773.8 387.1,770.9 388.0,768.0 389.0,765.0 390.0,762.0 391.1,758.9 392.3,755.9 393.4,752.9 394.5,750.0 395.6,747.3 396.7,744.6 397.8,742.0 398.9,739.5 400.0,737.0 401.2,734.5 402.4,732.1 403.6,729.7 404.8,727.3 406.0,725.0 407.2,722.7 408.4,720.5 409.5,718.4 410.7,716.2 412.0,714.0 413.3,711.8 414.7,709.6 416.1,707.3 417.5,705.1 419.0,703.0 420.5,700.9 422.1,698.9 423.7,696.9 425.3,694.9 427.0,693.0 428.7,691.1 430.5,689.3 432.3,687.5 434.1,685.7 436.0,684.0 437.9,682.4 439.7,680.8 441.7,679.3 443.7,677.7 446.0,676.0 448.5,674.1 451.1,672.2 453.9,670.2 456.9,668.1 460.0,666.0 463.3,663.8 466.9,661.6 470.5,659.4 474.2,657.2 477.8,655.0 481.3,652.9 484.6,650.9 488.0,649.0 491.6,647.0 495.5,645.0 499.9,643.0 504.5,641.0 509.4,638.9 514.4,636.9 519.2,635.0 523.9,633.1 528.7,631.3 533.4,629.5 538.2,627.7 542.9,626.0 547.5,624.3 552.1,622.7 556.7,621.1 561.5,619.6 566.5,618.0 572.3,616.3 578.9,614.6 585.4,612.9 591.0,611.5 595.0,610.5" fill="none" stroke="#aa69e1" stroke-width="4.3" stroke-linejoin="round" stroke-linecap="round" />
<polyline points="148.0,649.6 151.0,650.5 155.3,651.7 160.3,653.2 165.4,654.6 170.0,656.0 174.1,657.2 178.1,658.3 182.1,659.5 186.0,660.7 190.0,662.0 194.0,663.4 198.0,665.0 202.0,666.6 206.0,668.3 210.0,670.0 213.9,671.8 217.8,673.6 221.6,675.5 225.7,677.6 230.0,679.7 234.7,682.0 239.6,684.4 244.8,687.0 249.9,689.6 255.0,692.2 260.2,695.0 265.5,697.9 270.7,700.8 275.6,703.7 280.0,706.3 283.6,708.6 286.7,710.6 289.5,712.5 292.2,714.5 295.0,716.7 298.1,719.2 301.2,722.0 304.4,724.8 307.3,727.5 310.0,730.0 312.4,732.1 314.5,734.0 316.4,735.7 318.2,737.5 320.0,739.5 321.7,741.6 323.4,743.8 325.0,746.1 326.5,748.5 328.0,751.0 329.4,753.5 330.8,755.9 332.2,758.5 333.5,761.5 335.0,765.0 336.6,769.3 338.3,774.2 340.0,779.5 341.7,784.8 343.3,790.0 344.8,795.0 346.2,800.0 347.5,805.0 348.8,810.0 350.0,815.0 351.1,820.0 352.1,824.9 353.1,829.8 354.0,834.8 355.0,840.0 356.0,845.4 357.0,851.0 358.1,856.7 359.1,862.4 360.0,868.0 360.9,873.5 361.7,879.0 362.4,884.4 363.2,889.7 364.0,895.0 364.9,900.5 365.8,906.3 366.7,911.9 367.5,916.6 368.0,920.0" fill="none" stroke="#cd910a" stroke-width="4.3" stroke-linejoin="round" stroke-linecap="round" />
<polyline points="148.0,649.6 151.1,650.6 155.6,652.1 160.5,653.7 165.0,655.0 168.8,656.0 172.3,656.8 175.9,657.6 180.0,658.5 184.8,659.7 190.0,660.9 195.2,662.2 200.0,663.5 204.1,664.6 207.9,665.7 211.5,666.8 215.0,668.0 218.4,669.3 221.6,670.8 224.7,672.2 228.0,673.5 231.4,674.7 234.9,675.8 238.4,676.9 241.8,677.9 245.1,678.9 248.3,679.8 251.6,680.7 255.0,681.7 258.6,682.7 262.5,683.8 266.3,684.9 270.0,686.0 273.6,687.0 277.0,688.1 280.5,689.1 283.9,690.3 287.4,691.5 290.8,692.7 294.3,694.1 297.8,695.8 301.3,697.9 304.8,700.2 308.2,702.8 311.7,705.6 315.3,708.8 319.1,712.4 322.6,716.0 325.6,719.4 327.8,722.3 329.5,725.0 330.9,727.6 332.5,730.6 334.3,733.9 336.2,737.4 338.1,741.1 340.0,745.0 341.8,749.0 343.6,753.3 345.3,757.6 347.0,762.0 348.6,766.4 350.1,770.9 351.5,775.5 353.0,780.0 354.5,784.5 356.0,789.1 357.5,793.6 359.0,798.0 360.5,802.2 362.0,806.3 363.5,810.3 365.0,814.0 366.5,817.6 368.1,821.1 369.6,824.3 371.0,827.0 372.4,829.2 373.8,831.0 375.0,832.3 375.8,833.3" fill="none" stroke="#cd910a" stroke-width="4.3" stroke-linejoin="round" stroke-linecap="round" />
<polyline points="368.0,920.0 368.3,917.3 368.6,913.5 369.0,909.1 369.5,904.3 370.0,899.5 370.5,895.0 371.0,890.8 371.6,886.6 372.2,882.3 372.8,878.1 373.4,874.0 374.0,870.0 374.6,866.1 375.3,862.4 375.9,858.7 376.6,855.1 377.3,851.5 378.0,848.0 378.8,844.5 379.6,841.1 380.4,837.8 381.3,834.4 382.2,831.2 383.0,828.0 383.8,824.9 384.6,821.9 385.4,818.9 386.3,815.9 387.1,813.0 388.0,810.0 388.9,807.0 389.9,803.9 390.9,800.9 392.0,797.9 393.0,794.9 394.0,792.0 395.0,789.2 396.0,786.5 397.0,783.9 398.0,781.3 399.0,778.6 400.0,776.0 401.0,773.3 402.0,770.6 403.0,767.9 404.0,765.3 405.0,762.6 406.0,760.0 407.1,757.4 408.2,754.8 409.3,752.2 410.4,749.7 411.5,747.3 412.5,745.0 413.5,742.8 414.4,740.8 415.2,738.9 416.1,737.0 417.0,735.0 418.0,733.0 419.0,730.9 420.1,728.9 421.2,726.8 422.4,724.7 423.6,722.4 425.0,720.0 426.5,717.4 428.0,714.5 429.7,711.5 431.4,708.5 433.2,705.6 435.0,703.0 436.9,700.6 438.8,698.3 440.8,696.2 442.9,694.1 444.9,692.1 447.0,690.0 449.1,687.9 451.2,685.9 453.3,683.9 455.5,682.0 457.7,680.0 460.0,678.0 462.4,676.0 465.0,673.9 467.6,671.9 470.1,669.9 472.7,667.9 475.0,666.0 477.2,664.2 479.4,662.3 481.6,660.6 483.6,658.9 485.4,657.4 487.0,656.0 488.4,654.8 489.7,653.8 490.8,652.9 491.7,652.1 492.4,651.5 493.0,651.0 493.5,650.5 494.1,649.8 494.9,649.0 495.9,648.2 496.9,647.3 498.0,646.5 499.4,645.7 501.0,644.8 502.8,644.0 504.5,643.2 506.0,642.5 507.0,642.0 508.3,641.4 510.0,640.7 512.1,639.8 514.5,638.8 517.1,637.7 520.0,636.5 523.2,635.1 526.9,633.6 530.8,631.9 534.8,630.2 538.9,628.5 542.9,627.0 546.7,625.6 550.5,624.2 554.3,622.9 558.2,621.6 562.3,620.3 566.5,619.0 571.3,617.6 576.7,616.2 582.2,614.8 587.4,613.4 591.8,612.3 595.0,611.5" fill="none" stroke="#cd910a" stroke-width="4.3" stroke-linejoin="round" stroke-linecap="round"/>
<polyline points="375.8,833.3 375.9,832.7 376.0,831.9 376.2,831.0 376.4,829.7 376.7,828.1 377.0,826.0 377.4,823.3 377.9,820.0 378.5,816.3 379.1,812.4 379.8,808.6 380.5,805.0 381.3,801.6 382.1,798.1 383.0,794.8 383.9,791.4 384.7,788.1 385.5,785.0 386.2,782.0 386.9,779.0 387.5,776.1 388.2,773.3 388.8,770.6 389.5,768.0 390.2,765.5 390.9,763.1 391.6,760.8 392.4,758.6 393.2,756.3 394.0,754.0 394.9,751.6 395.9,749.3 396.9,746.9 397.9,744.5 399.0,742.2 400.0,740.0 401.0,737.9 402.0,735.8 403.0,733.8 404.0,731.9 405.0,729.9 406.0,728.0 407.0,726.1 408.0,724.3 408.9,722.4 409.9,720.6 410.9,718.8 412.0,717.0 413.1,715.2 414.3,713.3 415.5,711.4 416.8,709.6 418.0,707.8 419.3,706.0 420.5,704.3 421.8,702.6 423.0,700.9 424.3,699.3 425.6,697.7 427.0,696.0 428.4,694.3 429.9,692.6 431.5,690.9 433.0,689.2 434.5,687.6 436.0,686.0 437.4,684.5 438.7,683.1 440.0,681.8 441.3,680.5 442.6,679.3 444.0,678.0 445.4,676.8 446.9,675.5 448.3,674.3 449.8,673.1 451.3,672.0 452.7,671.0 454.1,670.1 455.5,669.2 456.9,668.4 458.2,667.6 459.6,666.8 461.0,666.0 462.4,665.2 463.7,664.3 465.1,663.5 466.4,662.7 467.8,661.8 469.3,661.0 470.8,660.2 472.4,659.3 474.1,658.4 475.7,657.6 477.3,656.8 478.8,656.0 480.3,655.3 481.7,654.5 483.1,653.8 484.5,653.1 485.8,652.5 487.0,652.0 488.1,651.6 489.2,651.3 490.2,651.0 491.2,650.7 492.1,650.4 493.0,650.0 493.9,649.4 494.9,648.7 495.9,647.9 496.7,647.1 497.5,646.5 498.0,646.0 498.9,645.6 500.2,645.0 501.7,644.3 503.4,643.6 505.2,642.8 507.0,642.0 509.1,641.1 511.5,640.1 514.1,639.0 516.5,638.0 518.5,637.1 520.0,636.5 522.5,635.5 525.9,634.0 530.0,632.3 534.4,630.4 538.8,628.6 542.9,627.0 546.7,625.5 550.5,624.0 554.3,622.6 558.2,621.2 562.3,619.8 566.5,618.5 571.3,617.2 576.7,615.8 582.2,614.5 587.4,613.3 591.8,612.2 595.0,611.5" fill="none" stroke="#cd910a" stroke-width="4.3" stroke-linejoin="round" stroke-linecap="round"/>
<polyline points="145.5,654.0 148.2,654.7 151.9,655.8 156.3,657.0 160.9,658.3 165.0,659.5 168.7,660.7 172.2,661.8 175.7,663.0 179.4,664.3 183.4,665.8 187.8,667.4 192.5,669.2 197.3,671.0 202.2,673.0 207.0,675.0 211.7,677.1 216.4,679.4 221.2,681.7 225.9,684.0 230.7,686.3 235.5,688.5 240.3,690.7 245.2,692.8 250.1,695.2 255.0,697.8 260.1,700.9 265.4,704.4 270.7,707.9 275.6,711.3 280.0,714.2 283.6,716.4 286.7,718.2 289.5,719.8 292.2,721.4 295.0,723.3 298.1,725.6 301.2,728.0 304.4,730.6 307.3,733.1 310.0,735.4 312.3,737.4 314.3,739.1 316.2,740.9 318.0,742.9 320.0,745.5 322.1,748.7 324.3,752.4 326.5,756.4 328.6,760.6 330.6,765.0 332.5,769.7 334.4,774.7 336.1,780.0 337.8,785.1 339.4,790.0 340.9,794.6 342.3,799.0 343.6,803.3 344.8,807.6 346.0,812.0 347.1,816.5 348.1,821.0 349.1,825.6 350.1,830.3 351.0,835.0 351.9,839.9 352.9,844.9 353.8,849.9 354.6,855.0 355.5,860.0 356.3,865.1 357.1,870.2 357.9,875.4 358.7,880.3 359.5,885.0 360.3,889.3 361.0,893.2 361.8,897.0 362.5,900.9 363.3,905.0 364.2,909.9 365.1,915.3 366.0,920.6 366.8,925.2 367.4,928.5" fill="none" stroke="#0ac8cd" stroke-width="4.3" stroke-linejoin="round" stroke-linecap="round" />
<polyline points="145.5,654.0 149.0,654.6 154.1,655.5 159.8,656.5 165.0,657.5 169.5,658.5 173.8,659.7 178.3,660.8 183.0,662.0 188.1,663.2 193.6,664.4 199.2,665.7 205.0,667.0 211.3,668.4 218.1,670.0 224.6,671.4 230.0,672.6 233.9,673.5 236.7,674.3 239.2,674.8 241.8,675.0 244.9,674.7 248.0,674.0 251.0,673.4 253.7,673.2 256.0,673.8 258.1,674.8 260.0,675.9 262.0,677.0 264.0,677.9 266.1,678.7 268.1,679.6 270.0,680.6 271.8,682.0 273.6,683.7 275.3,685.2 277.0,686.0 278.7,685.9 280.5,685.2 282.2,684.3 283.9,683.3 285.6,682.2 287.3,680.9 289.1,679.8 290.8,679.2 292.6,679.4 294.4,680.0 296.2,681.0 297.8,682.0 299.2,683.1 300.5,684.3 301.7,685.6 303.0,687.0 304.4,688.5 305.8,690.1 307.3,691.7 308.9,693.0 310.6,693.8 312.5,694.3 314.2,694.9 315.8,695.8 317.1,697.2 318.2,698.9 319.1,700.8 320.0,702.8 320.7,705.0 321.3,707.3 321.9,709.8 322.8,712.5 323.9,715.4 325.0,718.5 326.5,721.7 328.3,725.0 330.8,728.4 333.8,732.0 336.8,735.6 339.4,739.0 341.3,742.1 342.9,745.0 344.4,747.9 346.0,751.0 347.8,754.4 349.8,757.9 351.7,761.5 353.3,765.0 354.6,768.4 355.7,771.7 356.6,774.9 357.5,778.0 358.3,781.1 359.1,784.2 359.8,786.9 360.6,789.0 361.4,790.0 362.3,790.3 363.1,790.4 364.0,791.0 364.9,792.1 365.8,793.6 366.7,795.2 367.5,797.0 368.3,799.0 369.1,801.3 369.8,803.7 370.5,806.0 371.2,808.0 371.8,809.9 372.4,812.1 373.0,815.0 373.7,819.3 374.6,824.6 375.3,829.6 375.8,833.0" fill="none" stroke="#0ac8cd" stroke-width="4.3" stroke-linejoin="round" stroke-linecap="round" />
<polyline points="367.4,928.5 367.7,925.8 368.1,922.1 368.5,917.7 369.0,913.1 369.5,908.7 370.0,905.0 370.5,902.0 371.0,899.4 371.4,897.1 371.9,894.7 372.5,892.3 373.0,889.6 373.5,886.6 374.1,883.3 374.7,879.9 375.3,876.5 375.9,873.2 376.5,870.0 377.1,867.0 377.8,864.0 378.4,861.1 379.1,858.3 379.8,855.4 380.4,852.6 381.0,849.8 381.6,847.0 382.2,844.2 382.8,841.5 383.4,838.7 384.0,836.0 384.6,833.3 385.3,830.6 385.9,827.9 386.6,825.2 387.3,822.6 388.0,820.0 388.8,817.4 389.6,814.9 390.4,812.4 391.3,810.0 392.1,807.5 393.0,805.0 393.9,802.5 394.8,799.9 395.7,797.3 396.6,794.8 397.4,792.3 398.3,790.0 399.1,787.9 399.9,785.9 400.6,784.1 401.4,782.2 402.1,780.2 403.0,778.0 403.9,775.6 404.9,773.0 405.9,770.3 406.9,767.6 407.9,764.8 409.0,762.0 410.1,759.2 411.2,756.2 412.4,753.2 413.5,750.3 414.7,747.6 415.8,745.0 416.8,742.7 417.8,740.7 418.8,738.8 419.8,736.9 420.9,735.0 422.0,733.0 423.2,730.9 424.5,728.7 425.9,726.5 427.2,724.3 428.6,722.1 430.0,720.0 431.4,717.9 432.8,715.8 434.2,713.8 435.6,711.7 436.9,709.8 438.3,708.0 439.6,706.3 440.9,704.7 442.2,703.2 443.5,701.7 444.8,700.3 446.0,699.0 447.2,697.7 448.4,696.5 449.5,695.4 450.7,694.3 451.8,693.1 453.0,692.0 454.1,690.8 455.2,689.7 456.3,688.6 457.4,687.4 458.7,686.2 460.0,685.0 461.5,683.7 463.0,682.5 464.6,681.2 466.3,679.9 468.1,678.5 470.0,677.0 472.1,675.4 474.4,673.7 476.8,671.9 479.2,670.2 481.5,668.5 483.7,667.0 485.7,665.7 487.6,664.4 489.4,663.3 491.2,662.2 493.1,661.1 495.0,660.0 497.0,658.9 499.0,657.7 501.1,656.6 503.2,655.5 505.3,654.4 507.4,653.3 509.5,652.2 511.6,651.1 513.8,650.1 515.9,649.0 518.0,648.0 520.0,647.0 521.9,646.0 523.7,645.1 525.4,644.2 527.2,643.3 529.0,642.4 531.0,641.4 533.3,640.3 536.0,639.1 538.7,637.8 541.3,636.7 543.4,635.7 545.0,635.0 546.5,634.2 548.8,633.2 551.4,631.9 554.0,630.6 556.4,629.4 558.3,628.4 559.6,627.6 560.7,626.9 561.5,626.2 562.1,625.7 562.6,625.2 563.0,624.9 563.0,624.5 562.8,624.0 562.7,623.4 562.8,622.7 563.2,622.0 564.2,621.3 565.8,620.6 567.9,619.8 570.3,619.0 573.0,618.2 575.7,617.4 578.4,616.6 581.2,615.8 584.4,614.8 587.6,613.9 590.6,613.0 593.2,612.3 595.0,611.8" fill="none" stroke="#0ac8cd" stroke-width="4.3" stroke-linejoin="round" stroke-linecap="round"/>
<polyline points="375.8,833.0 375.9,832.5 375.9,831.9 376.0,831.2 376.2,830.2 376.4,828.7 376.7,826.7 377.1,824.0 377.6,820.5 378.1,816.7 378.7,812.7 379.3,808.7 380.0,805.0 380.7,801.5 381.6,798.1 382.5,794.7 383.3,791.4 384.2,788.1 385.0,785.0 385.7,782.0 386.4,779.0 387.0,776.2 387.7,773.4 388.3,770.7 389.0,768.0 389.7,765.4 390.4,762.9 391.0,760.5 391.8,758.1 392.5,755.7 393.3,753.3 394.2,750.9 395.1,748.4 396.0,746.0 397.0,743.6 398.0,741.3 399.0,739.0 400.0,736.8 401.0,734.7 402.0,732.7 403.0,730.7 404.0,728.7 405.0,726.7 406.0,724.7 407.0,722.7 407.9,720.7 408.9,718.8 409.9,716.8 411.0,715.0 412.1,713.2 413.3,711.5 414.5,709.9 415.8,708.3 417.0,706.6 418.3,705.0 419.5,703.3 420.8,701.7 422.0,700.0 423.3,698.3 424.6,696.7 426.0,695.0 427.4,693.3 428.9,691.6 430.5,689.9 432.0,688.2 433.5,686.6 435.0,685.0 436.4,683.5 437.7,682.1 439.0,680.8 440.3,679.5 441.6,678.3 443.0,677.0 444.4,675.8 445.9,674.5 447.3,673.3 448.8,672.1 450.3,671.0 451.7,670.0 453.2,669.0 454.8,668.0 456.4,667.1 457.9,666.2 459.1,665.5 460.0,665.0 468.3,660.0 469.3,659.4 470.8,658.6 472.5,657.7 474.4,656.7 476.2,655.8 477.8,655.0 479.2,654.3 480.6,653.7 482.0,653.1 483.3,652.6 484.6,652.0 486.0,651.5 487.4,651.0 488.9,650.5 490.4,650.1 491.8,649.6 493.1,649.1 494.3,648.5 495.2,647.8 496.0,647.0 496.6,646.2 497.2,645.4 498.0,644.6 499.0,643.8 500.2,643.1 501.6,642.5 503.1,641.9 504.7,641.3 506.3,640.7 508.0,640.0 509.6,639.3 511.1,638.6 512.7,637.8 514.5,637.0 516.6,636.1 519.2,635.0 522.4,633.7 526.2,632.3 530.3,630.7 534.5,629.1 538.8,627.5 542.9,626.0 546.8,624.6 550.6,623.2 554.4,621.9 558.3,620.6 562.3,619.3 566.5,618.0 571.3,616.7 576.7,615.3 582.2,614.0 587.4,612.8 591.8,611.8 595.0,611.0" fill="none" stroke="#0ac8cd" stroke-width="4.3" stroke-linejoin="round" stroke-linecap="round"/>
<rect x="165.6" y="789.3" width="167.1" height="135.5" fill="#fff" stroke="none"/>
<rect x="165.6" y="810.3" width="16" height="5.2" fill="#ff0000"/>
<rect x="181.6" y="812.2" width="151.1" height="5.0" fill="#ff0000"/>
<rect x="215" y="811.4" width="4" height="5.5" fill="#ff0000"/>
<rect x="245" y="811.4" width="4" height="5.5" fill="#ff0000"/>
<rect x="268" y="811.4" width="4" height="5.5" fill="#ff0000"/>
<rect x="300" y="811.4" width="4" height="5.5" fill="#ff0000"/>
<rect x="315" y="811.4" width="4" height="5.5" fill="#ff0000"/>
<rect x="165.6" y="906.0" width="167.1" height="4.2" fill="#000"/>
<rect x="166" y="904.8" width="10" height="4.5" fill="#000"/>
<rect x="204" y="904.8" width="10" height="4.5" fill="#000"/>
<rect x="252" y="904.8" width="10" height="4.5" fill="#000"/>
<rect x="294" y="904.8" width="10" height="4.5" fill="#000"/>
<rect x="165.6" y="789.3" width="167.1" height="135.5" fill="none" stroke="#000" stroke-width="1.6"/>
<line x1="165.60" y1="924.80" x2="165.60" y2="928.80" stroke="#000" stroke-width="1.4" stroke-linecap="butt"/>
<line x1="199.02" y1="924.80" x2="199.02" y2="928.80" stroke="#000" stroke-width="1.4" stroke-linecap="butt"/>
<line x1="232.44" y1="924.80" x2="232.44" y2="928.80" stroke="#000" stroke-width="1.4" stroke-linecap="butt"/>
<line x1="265.86" y1="924.80" x2="265.86" y2="928.80" stroke="#000" stroke-width="1.4" stroke-linecap="butt"/>
<line x1="299.28" y1="924.80" x2="299.28" y2="928.80" stroke="#000" stroke-width="1.4" stroke-linecap="butt"/>
<line x1="332.70" y1="924.80" x2="332.70" y2="928.80" stroke="#000" stroke-width="1.4" stroke-linecap="butt"/>
<text x="160.43" y="946.70" font-size="17.50" font-weight="bold" textLength="8.75" lengthAdjust="spacingAndGlyphs" fill="#000" >0</text>
<text x="184.97" y="946.70" font-size="17.50" font-weight="bold" textLength="26.25" lengthAdjust="spacingAndGlyphs" fill="#000" >200</text>
<text x="217.79" y="946.70" font-size="17.50" font-weight="bold" textLength="26.25" lengthAdjust="spacingAndGlyphs" fill="#000" >400</text>
<text x="251.42" y="946.70" font-size="17.50" font-weight="bold" textLength="26.25" lengthAdjust="spacingAndGlyphs" fill="#000" >600</text>
<text x="284.32" y="946.70" font-size="17.50" font-weight="bold" textLength="26.25" lengthAdjust="spacingAndGlyphs" fill="#000" >800</text>
<text x="313.65" y="946.70" font-size="17.50" font-weight="bold" textLength="35.00" lengthAdjust="spacingAndGlyphs" fill="#000" >1000</text>
<text x="197.36" y="967.70" font-size="20.60" font-weight="bold" textLength="103.33" lengthAdjust="spacing" fill="#000" >Time (Sec)</text>
<text transform="translate(157.20,919.90) rotate(-90)" x="-0.70" y="0" font-size="23.00" font-weight="normal" textLength="138.65" lengthAdjust="spacingAndGlyphs" stroke="#000" stroke-width="0.7">Resistance (Ω)</text>
<line x1="244.30" y1="833.90" x2="275.80" y2="833.90" stroke="#000" stroke-width="1.2" stroke-linecap="butt"/>
<circle cx="261.6" cy="833.9" r="2" fill="#000"/>
<line x1="244.30" y1="852.40" x2="275.80" y2="852.40" stroke="#ff0000" stroke-width="1.2" stroke-linecap="butt"/>
<circle cx="261.6" cy="852.4" r="1.6" fill="#ff0000"/>
<text x="280.89" y="838.90" font-size="15.50" font-weight="normal" textLength="33.03" lengthAdjust="spacingAndGlyphs" fill="#000" stroke="#000" stroke-width="0.2">HRS</text>
<text x="280.88" y="857.00" font-size="15.50" font-weight="normal" textLength="31.64" lengthAdjust="spacingAndGlyphs" fill="#000" stroke="#000" stroke-width="0.2">LRS</text>
<line x1="445.50" y1="784.60" x2="492.70" y2="784.60" stroke="#444444" stroke-width="4.0" stroke-linecap="round"/>
<text x="496.40" y="791.30" font-size="19.50" font-weight="bold" textLength="18.57" lengthAdjust="spacingAndGlyphs" fill="#000" >(1</text>
<text x="515.02" y="781.30" font-size="13.00" font-weight="bold" textLength="10.75" lengthAdjust="spacingAndGlyphs" fill="#000" >th</text>
<text x="527.07" y="791.30" font-size="19.50" font-weight="bold" textLength="50.60" lengthAdjust="spacingAndGlyphs" fill="#000" >cycle)</text>
<line x1="445.50" y1="813.55" x2="492.70" y2="813.55" stroke="#f23237" stroke-width="4.0" stroke-linecap="round"/>
<text x="496.42" y="820.25" font-size="19.50" font-weight="bold" textLength="29.11" lengthAdjust="spacingAndGlyphs" fill="#000" >(10</text>
<text x="525.82" y="810.25" font-size="13.00" font-weight="bold" textLength="10.75" lengthAdjust="spacingAndGlyphs" fill="#000" >th</text>
<text x="537.87" y="820.25" font-size="19.50" font-weight="bold" textLength="50.60" lengthAdjust="spacingAndGlyphs" fill="#000" >cycle)</text>
<line x1="445.50" y1="842.50" x2="492.70" y2="842.50" stroke="#1464e6" stroke-width="4.0" stroke-linecap="round"/>
<text x="496.42" y="849.20" font-size="19.50" font-weight="bold" textLength="29.11" lengthAdjust="spacingAndGlyphs" fill="#000" >(50</text>
<text x="525.82" y="839.20" font-size="13.00" font-weight="bold" textLength="10.75" lengthAdjust="spacingAndGlyphs" fill="#000" >th</text>
<text x="537.87" y="849.20" font-size="19.50" font-weight="bold" textLength="50.60" lengthAdjust="spacingAndGlyphs" fill="#000" >cycle)</text>
<line x1="445.50" y1="871.45" x2="492.70" y2="871.45" stroke="#28a064" stroke-width="4.0" stroke-linecap="round"/>
<text x="496.42" y="878.15" font-size="19.50" font-weight="bold" textLength="39.91" lengthAdjust="spacingAndGlyphs" fill="#000" >(100</text>
<text x="536.62" y="868.15" font-size="13.00" font-weight="bold" textLength="10.75" lengthAdjust="spacingAndGlyphs" fill="#000" >th</text>
<text x="548.67" y="878.15" font-size="19.50" font-weight="bold" textLength="50.60" lengthAdjust="spacingAndGlyphs" fill="#000" >cycle)</text>
<line x1="445.50" y1="900.40" x2="492.70" y2="900.40" stroke="#aa69e1" stroke-width="4.0" stroke-linecap="round"/>
<text x="496.42" y="907.10" font-size="19.50" font-weight="bold" textLength="39.91" lengthAdjust="spacingAndGlyphs" fill="#000" >(200</text>
<text x="536.62" y="897.10" font-size="13.00" font-weight="bold" textLength="10.75" lengthAdjust="spacingAndGlyphs" fill="#000" >th</text>
<text x="548.67" y="907.10" font-size="19.50" font-weight="bold" textLength="50.60" lengthAdjust="spacingAndGlyphs" fill="#000" >cycle)</text>
<line x1="445.50" y1="929.35" x2="492.70" y2="929.35" stroke="#cd910a" stroke-width="4.0" stroke-linecap="round"/>
<text x="496.42" y="936.05" font-size="19.50" font-weight="bold" textLength="39.91" lengthAdjust="spacingAndGlyphs" fill="#000" >(350</text>
<text x="536.62" y="926.05" font-size="13.00" font-weight="bold" textLength="10.75" lengthAdjust="spacingAndGlyphs" fill="#000" >th</text>
<text x="548.67" y="936.05" font-size="19.50" font-weight="bold" textLength="50.60" lengthAdjust="spacingAndGlyphs" fill="#000" >cycle)</text>
<line x1="445.50" y1="958.30" x2="492.70" y2="958.30" stroke="#0ac8cd" stroke-width="4.0" stroke-linecap="round"/>
<text x="496.42" y="965.00" font-size="19.50" font-weight="bold" textLength="39.91" lengthAdjust="spacingAndGlyphs" fill="#000" >(500</text>
<text x="536.62" y="955.00" font-size="13.00" font-weight="bold" textLength="10.75" lengthAdjust="spacingAndGlyphs" fill="#000" >th</text>
<text x="548.67" y="965.00" font-size="19.50" font-weight="bold" textLength="50.60" lengthAdjust="spacingAndGlyphs" fill="#000" >cycle)</text>
</svg>
</body></html>
